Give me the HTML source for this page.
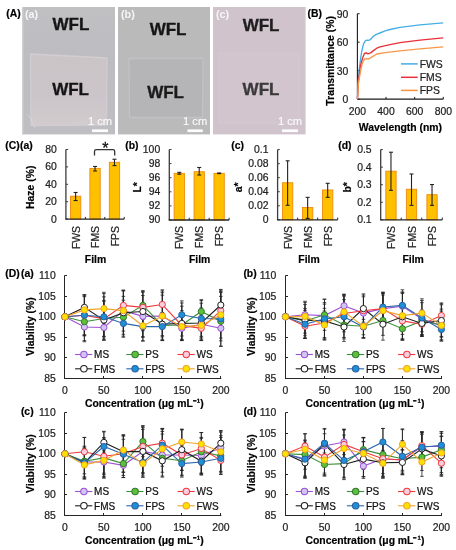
<!DOCTYPE html>
<html><head><meta charset="utf-8"><style>
html,body{margin:0;padding:0;background:#fff;}
body{width:456px;height:550px;overflow:hidden;}
svg{display:block;will-change:transform;}
text{font-family:"Liberation Sans",sans-serif;}
</style></head><body>
<svg width="456" height="550" viewBox="0 0 456 550">
<rect x="0" y="0" width="456" height="550" fill="#fff"/>
<defs><linearGradient id="ga" x1="0" y1="0" x2="0" y2="1"><stop offset="0" stop-color="#cac4c7"/><stop offset="0.6" stop-color="#cbc4c8"/><stop offset="1" stop-color="#d1cbce"/></linearGradient><linearGradient id="gpa" x1="0" y1="0" x2="0" y2="1"><stop offset="0" stop-color="#c0c0c3"/><stop offset="0.4" stop-color="#bdbdc1"/><stop offset="1" stop-color="#bfbec2"/></linearGradient></defs>
<g font-family="Liberation Sans, sans-serif">
<text x="6.30" y="16.90" font-size="10.4" font-weight="bold" text-anchor="start" fill="#000" stroke="#000" stroke-width="0.18">(A)</text>
<rect x="22.00" y="7.00" width="93.00" height="127.40" fill="url(#gpa)"/>
<polygon points="30.5,54 107,58 106.5,125 31,125.5" fill="url(#ga)" stroke="#d2cdd0" stroke-width="1.3" stroke-linejoin="round"/>
<rect x="22" y="7" width="1.4" height="127.4" fill="#cfcfd1"/><polyline points="27,114 31,119 35,128" fill="none" stroke="#dcd8db" stroke-width="1.1" opacity="0.6"/><polyline points="70,124 85,121 90,126" fill="none" stroke="#d8d4d7" stroke-width="1" opacity="0.5"/>
<text x="52.50" y="29.50" font-size="17" font-weight="bold" text-anchor="start" fill="#151515" stroke="#151515" stroke-width="0.35">WFL</text>
<text x="52.20" y="94.70" font-size="17" font-weight="bold" text-anchor="start" fill="#151515" stroke="#151515" stroke-width="0.35">WFL</text>
<text x="25.00" y="18.00" font-size="10.8" font-weight="bold" text-anchor="start" fill="#f6f6f6">(a)</text>
<text x="100.00" y="124.90" font-size="11.2" text-anchor="middle" fill="#fafafa" stroke="#fafafa" stroke-width="0.15">1 cm</text>
<rect x="92.00" y="129.40" width="16.00" height="2.70" fill="#fdfdfd"/>
<rect x="118.00" y="7.00" width="92.00" height="127.40" fill="#bbbabb"/>
<polygon points="129,58.5 203,58.5 202.5,117.5 129.5,117.5" fill="#b5b4b6" stroke="#c2c1c3" stroke-width="1.3" stroke-linejoin="round"/>
<text x="149.70" y="34.90" font-size="17" font-weight="bold" text-anchor="start" fill="#151515" stroke="#151515" stroke-width="0.35">WFL</text>
<text x="147.20" y="97.50" font-size="17" font-weight="bold" text-anchor="start" fill="#1a1a1a" stroke="#1a1a1a" stroke-width="0.35">WFL</text>
<text x="121.00" y="18.00" font-size="10.8" font-weight="bold" text-anchor="start" fill="#f6f6f6">(b)</text>
<text x="195.15" y="124.90" font-size="11.2" text-anchor="middle" fill="#fafafa" stroke="#fafafa" stroke-width="0.15">1 cm</text>
<rect x="187.50" y="129.40" width="15.30" height="2.70" fill="#fdfdfd"/>
<rect x="213.00" y="7.00" width="92.60" height="127.40" fill="#d0c3cb"/>
<polygon points="219,53 299,53 299,123.5 219,123.5" fill="#d2c5cd" stroke="#d4c8cf" stroke-width="1.3" stroke-linejoin="round"/>
<text x="242.70" y="30.70" font-size="17" font-weight="bold" text-anchor="start" fill="#1e1e1e" stroke="#1e1e1e" stroke-width="0.35">WFL</text>
<text x="242.60" y="94.50" font-size="17" font-weight="bold" text-anchor="start" fill="#3a3a3a" stroke="#3a3a3a" stroke-width="0.35">WFL</text>
<text x="216.00" y="18.00" font-size="10.8" font-weight="bold" text-anchor="start" fill="#f6f6f6">(c)</text>
<text x="290.00" y="124.90" font-size="11.2" text-anchor="middle" fill="#fafafa" stroke="#fafafa" stroke-width="0.15">1 cm</text>
<rect x="282.00" y="129.40" width="16.00" height="2.70" fill="#fdfdfd"/>
<text x="307.50" y="16.90" font-size="10.4" font-weight="bold" text-anchor="start" fill="#000" stroke="#000" stroke-width="0.18">(B)</text>
<line x1="357.40" y1="13.70" x2="357.40" y2="99.10" stroke="#1a1a1a" stroke-width="1.1"/>
<line x1="357.40" y1="99.10" x2="443.30" y2="99.10" stroke="#1a1a1a" stroke-width="1.1"/>
<line x1="357.40" y1="99.10" x2="359.60" y2="99.10" stroke="#1a1a1a" stroke-width="1"/>
<text x="348.30" y="103.10" font-size="10.4" text-anchor="end" fill="#222" stroke="#222" stroke-width="0.22">0</text>
<line x1="357.40" y1="70.63" x2="359.60" y2="70.63" stroke="#1a1a1a" stroke-width="1"/>
<text x="348.30" y="74.63" font-size="10.4" text-anchor="end" fill="#222" stroke="#222" stroke-width="0.22">30</text>
<line x1="357.40" y1="42.17" x2="359.60" y2="42.17" stroke="#1a1a1a" stroke-width="1"/>
<text x="348.30" y="46.17" font-size="10.4" text-anchor="end" fill="#222" stroke="#222" stroke-width="0.22">60</text>
<line x1="357.40" y1="13.70" x2="359.60" y2="13.70" stroke="#1a1a1a" stroke-width="1"/>
<text x="348.30" y="17.70" font-size="10.4" text-anchor="end" fill="#222" stroke="#222" stroke-width="0.22">90</text>
<line x1="357.40" y1="99.10" x2="357.40" y2="96.90" stroke="#1a1a1a" stroke-width="1"/>
<text x="357.40" y="115.00" font-size="10.4" text-anchor="middle" fill="#222" stroke="#222" stroke-width="0.22">200</text>
<line x1="386.03" y1="99.10" x2="386.03" y2="96.90" stroke="#1a1a1a" stroke-width="1"/>
<text x="386.03" y="115.00" font-size="10.4" text-anchor="middle" fill="#222" stroke="#222" stroke-width="0.22">400</text>
<line x1="414.67" y1="99.10" x2="414.67" y2="96.90" stroke="#1a1a1a" stroke-width="1"/>
<text x="414.67" y="115.00" font-size="10.4" text-anchor="middle" fill="#222" stroke="#222" stroke-width="0.22">600</text>
<line x1="443.30" y1="99.10" x2="443.30" y2="96.90" stroke="#1a1a1a" stroke-width="1"/>
<text x="443.30" y="115.00" font-size="10.4" text-anchor="middle" fill="#222" stroke="#222" stroke-width="0.22">800</text>
<text x="333.80" y="60.90" font-size="10.4" font-weight="bold" text-anchor="middle" fill="#000" transform="rotate(-90 333.8 60.9)" stroke="#000" stroke-width="0.18">Transmittance (%)</text>
<text x="400.40" y="131.00" font-size="10.4" font-weight="bold" text-anchor="middle" fill="#000" stroke="#000" stroke-width="0.18">Wavelength (nm)</text>
<polyline fill="none" stroke="#45afe6" stroke-width="1.35" stroke-linejoin="round" points="357.5,97.0 357.9,88.0 359.1,70.5 360.3,61.0 361.5,52.7 362.7,47.0 363.8,43.3 365.6,40.6 367.0,40.2 368.5,40.3 370.3,39.7 372.0,37.8 373.9,35.8 377.0,34.2 380.0,33.0 385.0,30.9 390.0,29.5 400.0,27.3 420.0,24.9 443.2,22.8"/>
<polyline fill="none" stroke="#e8303a" stroke-width="1.35" stroke-linejoin="round" points="357.5,99.0 358.5,80.0 360.3,66.9 361.5,62.0 362.6,58.0 364.4,53.5 366.2,52.8 368.0,53.9 370.9,52.6 373.5,50.6 376.8,48.2 380.0,46.9 390.0,44.7 400.0,42.6 420.0,40.2 443.2,37.9"/>
<polyline fill="none" stroke="#f8974a" stroke-width="1.35" stroke-linejoin="round" points="357.5,99.0 358.5,82.3 360.9,69.3 362.0,64.5 363.2,61.0 365.0,58.8 366.5,58.7 368.0,59.2 370.0,58.2 372.1,56.9 376.8,54.0 385.0,52.6 400.0,50.8 420.0,48.9 443.2,46.8"/>
<line x1="401.00" y1="63.90" x2="417.70" y2="63.90" stroke="#43ade4" stroke-width="1.5"/>
<text x="419.70" y="67.50" font-size="10.4" text-anchor="start" fill="#222" stroke="#222" stroke-width="0.22">FWS</text>
<line x1="401.00" y1="77.30" x2="417.70" y2="77.30" stroke="#e8303a" stroke-width="1.5"/>
<text x="419.70" y="80.90" font-size="10.4" text-anchor="start" fill="#222" stroke="#222" stroke-width="0.22">FMS</text>
<line x1="401.00" y1="90.40" x2="417.70" y2="90.40" stroke="#f7923f" stroke-width="1.5"/>
<text x="419.70" y="94.00" font-size="10.4" text-anchor="start" fill="#222" stroke="#222" stroke-width="0.22">FPS</text>
<text x="5.20" y="149.00" font-size="10.4" font-weight="bold" text-anchor="start" fill="#000" stroke="#000" stroke-width="0.18">(C)</text>
<line x1="65.90" y1="149.50" x2="65.90" y2="219.10" stroke="#3c3c3c" stroke-width="1.3"/>
<line x1="65.90" y1="219.10" x2="68.10" y2="219.10" stroke="#3c3c3c" stroke-width="1"/>
<text x="56.80" y="222.50" font-size="10.4" text-anchor="end" fill="#222" stroke="#222" stroke-width="0.22">0</text>
<line x1="65.90" y1="201.70" x2="68.10" y2="201.70" stroke="#3c3c3c" stroke-width="1"/>
<text x="56.80" y="205.10" font-size="10.4" text-anchor="end" fill="#222" stroke="#222" stroke-width="0.22">20</text>
<line x1="65.90" y1="184.30" x2="68.10" y2="184.30" stroke="#3c3c3c" stroke-width="1"/>
<text x="56.80" y="187.70" font-size="10.4" text-anchor="end" fill="#222" stroke="#222" stroke-width="0.22">40</text>
<line x1="65.90" y1="166.90" x2="68.10" y2="166.90" stroke="#3c3c3c" stroke-width="1"/>
<text x="56.80" y="170.30" font-size="10.4" text-anchor="end" fill="#222" stroke="#222" stroke-width="0.22">60</text>
<line x1="65.90" y1="149.50" x2="68.10" y2="149.50" stroke="#3c3c3c" stroke-width="1"/>
<text x="56.80" y="152.90" font-size="10.4" text-anchor="end" fill="#222" stroke="#222" stroke-width="0.22">80</text>
<rect x="70.47" y="196.22" width="10.30" height="22.88" fill="#ffc000" stroke="#f08a10" stroke-width="0.9"/>
<line x1="75.62" y1="192.48" x2="75.62" y2="200.57" stroke="#222" stroke-width="1.1"/>
<line x1="73.62" y1="192.48" x2="77.62" y2="192.48" stroke="#222" stroke-width="1.1"/>
<line x1="73.62" y1="200.57" x2="77.62" y2="200.57" stroke="#222" stroke-width="1.1"/>
<text x="79.82" y="226.00" font-size="10.4" text-anchor="end" fill="#222" transform="rotate(-90 79.81666666666668 226.0)" stroke="#222" stroke-width="0.22">FWS</text>
<rect x="89.90" y="168.38" width="10.30" height="50.72" fill="#ffc000" stroke="#f08a10" stroke-width="0.9"/>
<line x1="95.05" y1="166.47" x2="95.05" y2="170.99" stroke="#222" stroke-width="1.1"/>
<line x1="93.05" y1="166.47" x2="97.05" y2="166.47" stroke="#222" stroke-width="1.1"/>
<line x1="93.05" y1="170.99" x2="97.05" y2="170.99" stroke="#222" stroke-width="1.1"/>
<text x="99.25" y="226.00" font-size="10.4" text-anchor="end" fill="#222" transform="rotate(-90 99.25000000000001 226.0)" stroke="#222" stroke-width="0.22">FMS</text>
<rect x="109.33" y="162.29" width="10.30" height="56.81" fill="#ffc000" stroke="#f08a10" stroke-width="0.9"/>
<line x1="114.48" y1="159.24" x2="114.48" y2="165.59" stroke="#222" stroke-width="1.1"/>
<line x1="112.48" y1="159.24" x2="116.48" y2="159.24" stroke="#222" stroke-width="1.1"/>
<line x1="112.48" y1="165.59" x2="116.48" y2="165.59" stroke="#222" stroke-width="1.1"/>
<text x="118.68" y="226.00" font-size="10.4" text-anchor="end" fill="#222" transform="rotate(-90 118.68333333333335 226.0)" stroke="#222" stroke-width="0.22">FPS</text>
<line x1="65.25" y1="219.10" x2="124.20" y2="219.10" stroke="#262626" stroke-width="1.3"/>
<line x1="85.33" y1="219.10" x2="85.33" y2="216.90" stroke="#222" stroke-width="1"/>
<line x1="104.77" y1="219.10" x2="104.77" y2="216.90" stroke="#222" stroke-width="1"/>
<line x1="124.20" y1="219.10" x2="124.20" y2="216.90" stroke="#222" stroke-width="1"/>
<text x="95.55" y="263.00" font-size="10.4" font-weight="bold" text-anchor="middle" fill="#000" stroke="#000" stroke-width="0.18">Film</text>
<text x="34.40" y="187.30" font-size="10.4" font-weight="bold" text-anchor="middle" fill="#000" transform="rotate(-90 34.4 187.3)" stroke="#000" stroke-width="0.18">Haze (%)</text>
<text x="20.00" y="149.00" font-size="10.4" font-weight="bold" text-anchor="start" fill="#000" stroke="#000" stroke-width="0.18">(a)</text>
<path fill="none" stroke="#333" stroke-width="1.3" d="M94.5,155.4 V151.4 Q94.5,149.6 96.3,149.6 H112.9 Q114.7,149.6 114.7,151.4 V155.4"/>
<text x="105.30" y="153.60" font-size="16" text-anchor="middle" fill="#111" stroke="#111" stroke-width="0.3">*</text>
<line x1="169.30" y1="149.50" x2="169.30" y2="220.00" stroke="#3c3c3c" stroke-width="1.3"/>
<line x1="169.30" y1="220.00" x2="171.50" y2="220.00" stroke="#3c3c3c" stroke-width="1"/>
<text x="160.20" y="223.40" font-size="10.4" text-anchor="end" fill="#222" stroke="#222" stroke-width="0.22">90</text>
<line x1="169.30" y1="205.90" x2="171.50" y2="205.90" stroke="#3c3c3c" stroke-width="1"/>
<text x="160.20" y="209.30" font-size="10.4" text-anchor="end" fill="#222" stroke="#222" stroke-width="0.22">92</text>
<line x1="169.30" y1="191.80" x2="171.50" y2="191.80" stroke="#3c3c3c" stroke-width="1"/>
<text x="160.20" y="195.20" font-size="10.4" text-anchor="end" fill="#222" stroke="#222" stroke-width="0.22">94</text>
<line x1="169.30" y1="177.70" x2="171.50" y2="177.70" stroke="#3c3c3c" stroke-width="1"/>
<text x="160.20" y="181.10" font-size="10.4" text-anchor="end" fill="#222" stroke="#222" stroke-width="0.22">96</text>
<line x1="169.30" y1="163.60" x2="171.50" y2="163.60" stroke="#3c3c3c" stroke-width="1"/>
<text x="160.20" y="167.00" font-size="10.4" text-anchor="end" fill="#222" stroke="#222" stroke-width="0.22">98</text>
<line x1="169.30" y1="149.50" x2="171.50" y2="149.50" stroke="#3c3c3c" stroke-width="1"/>
<text x="160.20" y="152.90" font-size="10.4" text-anchor="end" fill="#222" stroke="#222" stroke-width="0.22">100</text>
<rect x="174.12" y="173.33" width="10.30" height="46.67" fill="#ffc000" stroke="#f08a10" stroke-width="0.9"/>
<line x1="179.27" y1="172.34" x2="179.27" y2="174.18" stroke="#222" stroke-width="1.1"/>
<line x1="177.27" y1="172.34" x2="181.27" y2="172.34" stroke="#222" stroke-width="1.1"/>
<line x1="177.27" y1="174.18" x2="181.27" y2="174.18" stroke="#222" stroke-width="1.1"/>
<text x="183.47" y="226.00" font-size="10.4" text-anchor="end" fill="#222" transform="rotate(-90 183.46666666666667 226.0)" stroke="#222" stroke-width="0.22">FWS</text>
<rect x="194.05" y="171.71" width="10.30" height="48.29" fill="#ffc000" stroke="#f08a10" stroke-width="0.9"/>
<line x1="199.20" y1="167.48" x2="199.20" y2="175.02" stroke="#222" stroke-width="1.1"/>
<line x1="197.20" y1="167.48" x2="201.20" y2="167.48" stroke="#222" stroke-width="1.1"/>
<line x1="197.20" y1="175.02" x2="201.20" y2="175.02" stroke="#222" stroke-width="1.1"/>
<text x="203.40" y="226.00" font-size="10.4" text-anchor="end" fill="#222" transform="rotate(-90 203.39999999999998 226.0)" stroke="#222" stroke-width="0.22">FMS</text>
<rect x="213.98" y="173.33" width="10.30" height="46.67" fill="#ffc000" stroke="#f08a10" stroke-width="0.9"/>
<line x1="219.13" y1="172.98" x2="219.13" y2="173.61" stroke="#222" stroke-width="1.1"/>
<line x1="217.13" y1="172.98" x2="221.13" y2="172.98" stroke="#222" stroke-width="1.1"/>
<line x1="217.13" y1="173.61" x2="221.13" y2="173.61" stroke="#222" stroke-width="1.1"/>
<text x="223.33" y="226.00" font-size="10.4" text-anchor="end" fill="#222" transform="rotate(-90 223.33333333333331 226.0)" stroke="#222" stroke-width="0.22">FPS</text>
<line x1="168.65" y1="220.00" x2="229.10" y2="220.00" stroke="#262626" stroke-width="1.3"/>
<line x1="189.23" y1="220.00" x2="189.23" y2="217.80" stroke="#222" stroke-width="1"/>
<line x1="209.17" y1="220.00" x2="209.17" y2="217.80" stroke="#222" stroke-width="1"/>
<line x1="229.10" y1="220.00" x2="229.10" y2="217.80" stroke="#222" stroke-width="1"/>
<text x="199.70" y="263.00" font-size="10.4" font-weight="bold" text-anchor="middle" fill="#000" stroke="#000" stroke-width="0.18">Film</text>
<text x="141.20" y="187.30" font-size="10.4" font-weight="bold" text-anchor="middle" fill="#000" transform="rotate(-90 141.2 187.3)" stroke="#000" stroke-width="0.18">L*</text>
<text x="125.30" y="149.00" font-size="10.4" font-weight="bold" text-anchor="start" fill="#000" stroke="#000" stroke-width="0.18">(b)</text>
<line x1="277.60" y1="149.60" x2="277.60" y2="219.80" stroke="#3c3c3c" stroke-width="1.3"/>
<line x1="277.60" y1="219.80" x2="279.80" y2="219.80" stroke="#3c3c3c" stroke-width="1"/>
<text x="268.50" y="223.20" font-size="10.4" text-anchor="end" fill="#222" stroke="#222" stroke-width="0.22">0</text>
<line x1="277.60" y1="205.76" x2="279.80" y2="205.76" stroke="#3c3c3c" stroke-width="1"/>
<text x="268.50" y="209.16" font-size="10.4" text-anchor="end" fill="#222" stroke="#222" stroke-width="0.22">0.02</text>
<line x1="277.60" y1="191.72" x2="279.80" y2="191.72" stroke="#3c3c3c" stroke-width="1"/>
<text x="268.50" y="195.12" font-size="10.4" text-anchor="end" fill="#222" stroke="#222" stroke-width="0.22">0.04</text>
<line x1="277.60" y1="177.68" x2="279.80" y2="177.68" stroke="#3c3c3c" stroke-width="1"/>
<text x="268.50" y="181.08" font-size="10.4" text-anchor="end" fill="#222" stroke="#222" stroke-width="0.22">0.06</text>
<line x1="277.60" y1="163.64" x2="279.80" y2="163.64" stroke="#3c3c3c" stroke-width="1"/>
<text x="268.50" y="167.04" font-size="10.4" text-anchor="end" fill="#222" stroke="#222" stroke-width="0.22">0.08</text>
<line x1="277.60" y1="149.60" x2="279.80" y2="149.60" stroke="#3c3c3c" stroke-width="1"/>
<text x="268.50" y="153.00" font-size="10.4" text-anchor="end" fill="#222" stroke="#222" stroke-width="0.22">0.1</text>
<rect x="282.47" y="182.73" width="10.30" height="37.07" fill="#ffc000" stroke="#f08a10" stroke-width="0.9"/>
<line x1="287.62" y1="160.83" x2="287.62" y2="205.27" stroke="#222" stroke-width="1.1"/>
<line x1="285.62" y1="160.83" x2="289.62" y2="160.83" stroke="#222" stroke-width="1.1"/>
<line x1="285.62" y1="205.27" x2="289.62" y2="205.27" stroke="#222" stroke-width="1.1"/>
<text x="291.82" y="226.00" font-size="10.4" text-anchor="end" fill="#222" transform="rotate(-90 291.81666666666666 226.0)" stroke="#222" stroke-width="0.22">FWS</text>
<rect x="302.50" y="207.52" width="10.30" height="12.28" fill="#ffc000" stroke="#f08a10" stroke-width="0.9"/>
<line x1="307.65" y1="197.34" x2="307.65" y2="218.40" stroke="#222" stroke-width="1.1"/>
<line x1="305.65" y1="197.34" x2="309.65" y2="197.34" stroke="#222" stroke-width="1.1"/>
<line x1="305.65" y1="218.40" x2="309.65" y2="218.40" stroke="#222" stroke-width="1.1"/>
<text x="311.85" y="226.00" font-size="10.4" text-anchor="end" fill="#222" transform="rotate(-90 311.84999999999997 226.0)" stroke="#222" stroke-width="0.22">FMS</text>
<rect x="322.53" y="189.97" width="10.30" height="29.84" fill="#ffc000" stroke="#f08a10" stroke-width="0.9"/>
<line x1="327.68" y1="183.30" x2="327.68" y2="197.34" stroke="#222" stroke-width="1.1"/>
<line x1="325.68" y1="183.30" x2="329.68" y2="183.30" stroke="#222" stroke-width="1.1"/>
<line x1="325.68" y1="197.34" x2="329.68" y2="197.34" stroke="#222" stroke-width="1.1"/>
<text x="331.88" y="226.00" font-size="10.4" text-anchor="end" fill="#222" transform="rotate(-90 331.8833333333333 226.0)" stroke="#222" stroke-width="0.22">FPS</text>
<line x1="276.95" y1="219.80" x2="337.70" y2="219.80" stroke="#262626" stroke-width="1.3"/>
<line x1="297.63" y1="219.80" x2="297.63" y2="217.60" stroke="#222" stroke-width="1"/>
<line x1="317.67" y1="219.80" x2="317.67" y2="217.60" stroke="#222" stroke-width="1"/>
<line x1="337.70" y1="219.80" x2="337.70" y2="217.60" stroke="#222" stroke-width="1"/>
<text x="309.05" y="263.00" font-size="10.4" font-weight="bold" text-anchor="middle" fill="#000" stroke="#000" stroke-width="0.18">Film</text>
<text x="241.80" y="187.30" font-size="10.4" font-weight="bold" text-anchor="middle" fill="#000" transform="rotate(-90 241.8 187.3)" stroke="#000" stroke-width="0.18">a*</text>
<text x="231.30" y="149.00" font-size="10.4" font-weight="bold" text-anchor="start" fill="#000" stroke="#000" stroke-width="0.18">(c)</text>
<line x1="380.70" y1="149.60" x2="380.70" y2="219.80" stroke="#3c3c3c" stroke-width="1.3"/>
<line x1="380.70" y1="219.80" x2="382.90" y2="219.80" stroke="#3c3c3c" stroke-width="1"/>
<text x="371.60" y="223.20" font-size="10.4" text-anchor="end" fill="#222" stroke="#222" stroke-width="0.22">0.1</text>
<line x1="380.70" y1="202.25" x2="382.90" y2="202.25" stroke="#3c3c3c" stroke-width="1"/>
<text x="371.60" y="205.65" font-size="10.4" text-anchor="end" fill="#222" stroke="#222" stroke-width="0.22">0.2</text>
<line x1="380.70" y1="184.70" x2="382.90" y2="184.70" stroke="#3c3c3c" stroke-width="1"/>
<text x="371.60" y="188.10" font-size="10.4" text-anchor="end" fill="#222" stroke="#222" stroke-width="0.22">0.3</text>
<line x1="380.70" y1="167.15" x2="382.90" y2="167.15" stroke="#3c3c3c" stroke-width="1"/>
<text x="371.60" y="170.55" font-size="10.4" text-anchor="end" fill="#222" stroke="#222" stroke-width="0.22">0.4</text>
<line x1="380.70" y1="149.60" x2="382.90" y2="149.60" stroke="#3c3c3c" stroke-width="1"/>
<text x="371.60" y="153.00" font-size="10.4" text-anchor="end" fill="#222" stroke="#222" stroke-width="0.22">0.5</text>
<rect x="385.82" y="171.19" width="10.30" height="48.61" fill="#ffc000" stroke="#f08a10" stroke-width="0.9"/>
<line x1="390.97" y1="152.23" x2="390.97" y2="190.32" stroke="#222" stroke-width="1.1"/>
<line x1="388.97" y1="152.23" x2="392.97" y2="152.23" stroke="#222" stroke-width="1.1"/>
<line x1="388.97" y1="190.32" x2="392.97" y2="190.32" stroke="#222" stroke-width="1.1"/>
<text x="395.17" y="226.00" font-size="10.4" text-anchor="end" fill="#222" transform="rotate(-90 395.16666666666663 226.0)" stroke="#222" stroke-width="0.22">FWS</text>
<rect x="406.35" y="189.26" width="10.30" height="30.54" fill="#ffc000" stroke="#f08a10" stroke-width="0.9"/>
<line x1="411.50" y1="173.99" x2="411.50" y2="205.41" stroke="#222" stroke-width="1.1"/>
<line x1="409.50" y1="173.99" x2="413.50" y2="173.99" stroke="#222" stroke-width="1.1"/>
<line x1="409.50" y1="205.41" x2="413.50" y2="205.41" stroke="#222" stroke-width="1.1"/>
<text x="415.70" y="226.00" font-size="10.4" text-anchor="end" fill="#222" transform="rotate(-90 415.7 226.0)" stroke="#222" stroke-width="0.22">FMS</text>
<rect x="426.88" y="194.70" width="10.30" height="25.10" fill="#ffc000" stroke="#f08a10" stroke-width="0.9"/>
<line x1="432.03" y1="184.52" x2="432.03" y2="205.41" stroke="#222" stroke-width="1.1"/>
<line x1="430.03" y1="184.52" x2="434.03" y2="184.52" stroke="#222" stroke-width="1.1"/>
<line x1="430.03" y1="205.41" x2="434.03" y2="205.41" stroke="#222" stroke-width="1.1"/>
<text x="436.23" y="226.00" font-size="10.4" text-anchor="end" fill="#222" transform="rotate(-90 436.23333333333335 226.0)" stroke="#222" stroke-width="0.22">FPS</text>
<line x1="380.05" y1="219.80" x2="442.30" y2="219.80" stroke="#262626" stroke-width="1.3"/>
<line x1="401.23" y1="219.80" x2="401.23" y2="217.60" stroke="#222" stroke-width="1"/>
<line x1="421.77" y1="219.80" x2="421.77" y2="217.60" stroke="#222" stroke-width="1"/>
<line x1="442.30" y1="219.80" x2="442.30" y2="217.60" stroke="#222" stroke-width="1"/>
<text x="413.10" y="263.00" font-size="10.4" font-weight="bold" text-anchor="middle" fill="#000" stroke="#000" stroke-width="0.18">Film</text>
<text x="351.20" y="187.30" font-size="10.4" font-weight="bold" text-anchor="middle" fill="#000" transform="rotate(-90 351.2 187.3)" stroke="#000" stroke-width="0.18">b*</text>
<text x="338.30" y="149.00" font-size="10.4" font-weight="bold" text-anchor="start" fill="#000" stroke="#000" stroke-width="0.18">(d)</text>
<text x="5.30" y="277.00" font-size="10.4" font-weight="bold" text-anchor="start" fill="#000" stroke="#000" stroke-width="0.18">(D)</text>
<line x1="64.50" y1="275.50" x2="64.50" y2="379.00" stroke="#262626" stroke-width="1"/>
<line x1="64.00" y1="378.50" x2="221.30" y2="378.50" stroke="#262626" stroke-width="1"/>
<line x1="64.50" y1="378.50" x2="67.00" y2="378.50" stroke="#262626" stroke-width="1"/>
<text x="55.70" y="382.00" font-size="10.4" text-anchor="end" fill="#222" stroke="#222" stroke-width="0.22">85</text>
<line x1="64.50" y1="357.50" x2="67.00" y2="357.50" stroke="#262626" stroke-width="1"/>
<text x="55.70" y="361.00" font-size="10.4" text-anchor="end" fill="#222" stroke="#222" stroke-width="0.22">90</text>
<line x1="64.50" y1="337.50" x2="67.00" y2="337.50" stroke="#262626" stroke-width="1"/>
<text x="55.70" y="341.00" font-size="10.4" text-anchor="end" fill="#222" stroke="#222" stroke-width="0.22">95</text>
<line x1="64.50" y1="316.50" x2="67.00" y2="316.50" stroke="#262626" stroke-width="1"/>
<text x="55.70" y="320.00" font-size="10.4" text-anchor="end" fill="#222" stroke="#222" stroke-width="0.22">100</text>
<line x1="64.50" y1="296.50" x2="67.00" y2="296.50" stroke="#262626" stroke-width="1"/>
<text x="55.70" y="300.00" font-size="10.4" text-anchor="end" fill="#222" stroke="#222" stroke-width="0.22">105</text>
<line x1="64.50" y1="275.50" x2="67.00" y2="275.50" stroke="#262626" stroke-width="1"/>
<text x="55.70" y="279.00" font-size="10.4" text-anchor="end" fill="#222" stroke="#222" stroke-width="0.22">110</text>
<text x="64.90" y="393.90" font-size="10.4" text-anchor="middle" fill="#222" stroke="#222" stroke-width="0.22">0</text>
<line x1="103.50" y1="378.50" x2="103.50" y2="376.00" stroke="#262626" stroke-width="1"/>
<text x="103.88" y="393.90" font-size="10.4" text-anchor="middle" fill="#222" stroke="#222" stroke-width="0.22">50</text>
<line x1="142.50" y1="378.50" x2="142.50" y2="376.00" stroke="#262626" stroke-width="1"/>
<text x="142.85" y="393.90" font-size="10.4" text-anchor="middle" fill="#222" stroke="#222" stroke-width="0.22">100</text>
<line x1="181.50" y1="378.50" x2="181.50" y2="376.00" stroke="#262626" stroke-width="1"/>
<text x="181.82" y="393.90" font-size="10.4" text-anchor="middle" fill="#222" stroke="#222" stroke-width="0.22">150</text>
<line x1="220.50" y1="378.50" x2="220.50" y2="376.00" stroke="#262626" stroke-width="1"/>
<text x="220.80" y="393.90" font-size="10.4" text-anchor="middle" fill="#222" stroke="#222" stroke-width="0.22">200</text>
<text x="144.35" y="406.80" font-size="10.4" font-weight="bold" text-anchor="middle" fill="#000" stroke="#000" stroke-width="0.18">Concentration (μg mL⁻¹)</text>
<text x="34.30" y="326.60" font-size="10.4" font-weight="bold" text-anchor="middle" fill="#000" transform="rotate(-90 34.300000000000004 326.59999999999997)" stroke="#000" stroke-width="0.18">Viability (%)</text>
<text x="21.00" y="277.00" font-size="10.4" font-weight="bold" text-anchor="start" fill="#000" stroke="#000" stroke-width="0.18">(a)</text>
<polyline fill="none" stroke="#9d4fd1" stroke-width="1.1" points="64.9,316.8 84.4,327.0 103.9,327.5 123.4,310.7 142.9,316.4 162.3,316.0 181.8,328.3 201.3,324.2 220.8,328.3"/>
<polyline fill="none" stroke="#3a8f3a" stroke-width="1.1" points="64.9,316.8 84.4,321.7 103.9,318.5 123.4,317.2 142.9,305.4 162.3,325.4 181.8,325.0 201.3,311.5 220.8,321.3"/>
<polyline fill="none" stroke="#f0383c" stroke-width="1.1" points="64.9,316.8 84.4,315.2 103.9,318.9 123.4,305.4 142.9,307.4 162.3,304.5 181.8,325.4 201.3,328.3 220.8,310.7"/>
<polyline fill="none" stroke="#1e1e1e" stroke-width="1.1" points="64.9,316.8 84.4,307.4 103.9,320.1 123.4,312.7 142.9,311.5 162.3,324.2 181.8,323.4 201.3,323.0 220.8,305.0"/>
<polyline fill="none" stroke="#2c66ad" stroke-width="1.1" points="64.9,316.8 84.4,315.2 103.9,316.8 123.4,323.4 142.9,326.6 162.3,326.6 181.8,314.8 201.3,318.5 220.8,318.9"/>
<polyline fill="none" stroke="#f0a42a" stroke-width="1.1" points="64.9,316.8 84.4,309.9 103.9,308.6 123.4,310.7 142.9,325.8 162.3,316.0 181.8,326.6 201.3,325.4 220.8,314.8"/>
<line x1="84.39" y1="313.50" x2="84.39" y2="340.60" stroke="#222" stroke-width="0.8"/>
<line x1="82.59" y1="313.50" x2="86.19" y2="313.50" stroke="#222" stroke-width="0.8"/>
<line x1="82.59" y1="340.60" x2="86.19" y2="340.60" stroke="#222" stroke-width="0.8"/>
<line x1="84.39" y1="307.69" x2="84.39" y2="335.77" stroke="#222" stroke-width="0.8"/>
<line x1="82.59" y1="307.69" x2="86.19" y2="307.69" stroke="#222" stroke-width="0.8"/>
<line x1="82.59" y1="335.77" x2="86.19" y2="335.77" stroke="#222" stroke-width="0.8"/>
<line x1="84.39" y1="294.72" x2="84.39" y2="335.64" stroke="#222" stroke-width="0.8"/>
<line x1="82.59" y1="294.72" x2="86.19" y2="294.72" stroke="#222" stroke-width="0.8"/>
<line x1="82.59" y1="335.64" x2="86.19" y2="335.64" stroke="#222" stroke-width="0.8"/>
<line x1="84.39" y1="296.63" x2="84.39" y2="318.19" stroke="#222" stroke-width="0.8"/>
<line x1="82.59" y1="296.63" x2="86.19" y2="296.63" stroke="#222" stroke-width="0.8"/>
<line x1="82.59" y1="318.19" x2="86.19" y2="318.19" stroke="#222" stroke-width="0.8"/>
<line x1="84.39" y1="295.75" x2="84.39" y2="334.62" stroke="#222" stroke-width="0.8"/>
<line x1="82.59" y1="295.75" x2="86.19" y2="295.75" stroke="#222" stroke-width="0.8"/>
<line x1="82.59" y1="334.62" x2="86.19" y2="334.62" stroke="#222" stroke-width="0.8"/>
<line x1="84.39" y1="294.72" x2="84.39" y2="341.78" stroke="#222" stroke-width="0.8"/>
<line x1="82.59" y1="294.72" x2="86.19" y2="294.72" stroke="#222" stroke-width="0.8"/>
<line x1="82.59" y1="341.78" x2="86.19" y2="341.78" stroke="#222" stroke-width="0.8"/>
<line x1="103.88" y1="318.58" x2="103.88" y2="336.34" stroke="#222" stroke-width="0.8"/>
<line x1="102.08" y1="318.58" x2="105.67" y2="318.58" stroke="#222" stroke-width="0.8"/>
<line x1="102.08" y1="336.34" x2="105.67" y2="336.34" stroke="#222" stroke-width="0.8"/>
<line x1="103.88" y1="296.77" x2="103.88" y2="340.14" stroke="#222" stroke-width="0.8"/>
<line x1="102.08" y1="296.77" x2="105.67" y2="296.77" stroke="#222" stroke-width="0.8"/>
<line x1="102.08" y1="340.14" x2="105.67" y2="340.14" stroke="#222" stroke-width="0.8"/>
<line x1="103.88" y1="300.78" x2="103.88" y2="336.95" stroke="#222" stroke-width="0.8"/>
<line x1="102.08" y1="300.78" x2="105.67" y2="300.78" stroke="#222" stroke-width="0.8"/>
<line x1="102.08" y1="336.95" x2="105.67" y2="336.95" stroke="#222" stroke-width="0.8"/>
<line x1="103.88" y1="301.05" x2="103.88" y2="339.14" stroke="#222" stroke-width="0.8"/>
<line x1="102.08" y1="301.05" x2="105.67" y2="301.05" stroke="#222" stroke-width="0.8"/>
<line x1="102.08" y1="339.14" x2="105.67" y2="339.14" stroke="#222" stroke-width="0.8"/>
<line x1="103.88" y1="292.27" x2="103.88" y2="340.14" stroke="#222" stroke-width="0.8"/>
<line x1="102.08" y1="292.27" x2="105.67" y2="292.27" stroke="#222" stroke-width="0.8"/>
<line x1="102.08" y1="340.14" x2="105.67" y2="340.14" stroke="#222" stroke-width="0.8"/>
<line x1="103.88" y1="293.58" x2="103.88" y2="323.69" stroke="#222" stroke-width="0.8"/>
<line x1="102.08" y1="293.58" x2="105.67" y2="293.58" stroke="#222" stroke-width="0.8"/>
<line x1="102.08" y1="323.69" x2="105.67" y2="323.69" stroke="#222" stroke-width="0.8"/>
<line x1="123.36" y1="290.22" x2="123.36" y2="331.14" stroke="#222" stroke-width="0.8"/>
<line x1="121.56" y1="290.22" x2="125.16" y2="290.22" stroke="#222" stroke-width="0.8"/>
<line x1="121.56" y1="331.14" x2="125.16" y2="331.14" stroke="#222" stroke-width="0.8"/>
<line x1="123.36" y1="300.19" x2="123.36" y2="334.27" stroke="#222" stroke-width="0.8"/>
<line x1="121.56" y1="300.19" x2="125.16" y2="300.19" stroke="#222" stroke-width="0.8"/>
<line x1="121.56" y1="334.27" x2="125.16" y2="334.27" stroke="#222" stroke-width="0.8"/>
<line x1="123.36" y1="290.98" x2="123.36" y2="319.75" stroke="#222" stroke-width="0.8"/>
<line x1="121.56" y1="290.98" x2="125.16" y2="290.98" stroke="#222" stroke-width="0.8"/>
<line x1="121.56" y1="319.75" x2="125.16" y2="319.75" stroke="#222" stroke-width="0.8"/>
<line x1="123.36" y1="290.22" x2="123.36" y2="337.28" stroke="#222" stroke-width="0.8"/>
<line x1="121.56" y1="290.22" x2="125.16" y2="290.22" stroke="#222" stroke-width="0.8"/>
<line x1="121.56" y1="337.28" x2="125.16" y2="337.28" stroke="#222" stroke-width="0.8"/>
<line x1="123.36" y1="310.57" x2="123.36" y2="336.17" stroke="#222" stroke-width="0.8"/>
<line x1="121.56" y1="310.57" x2="125.16" y2="310.57" stroke="#222" stroke-width="0.8"/>
<line x1="121.56" y1="336.17" x2="125.16" y2="336.17" stroke="#222" stroke-width="0.8"/>
<line x1="123.36" y1="296.36" x2="123.36" y2="325.00" stroke="#222" stroke-width="0.8"/>
<line x1="121.56" y1="296.36" x2="125.16" y2="296.36" stroke="#222" stroke-width="0.8"/>
<line x1="121.56" y1="325.00" x2="125.16" y2="325.00" stroke="#222" stroke-width="0.8"/>
<line x1="142.85" y1="295.54" x2="142.85" y2="337.28" stroke="#222" stroke-width="0.8"/>
<line x1="141.05" y1="295.54" x2="144.65" y2="295.54" stroke="#222" stroke-width="0.8"/>
<line x1="141.05" y1="337.28" x2="144.65" y2="337.28" stroke="#222" stroke-width="0.8"/>
<line x1="142.85" y1="291.37" x2="142.85" y2="319.36" stroke="#222" stroke-width="0.8"/>
<line x1="141.05" y1="291.37" x2="144.65" y2="291.37" stroke="#222" stroke-width="0.8"/>
<line x1="141.05" y1="319.36" x2="144.65" y2="319.36" stroke="#222" stroke-width="0.8"/>
<line x1="142.85" y1="290.63" x2="142.85" y2="340.96" stroke="#222" stroke-width="0.8"/>
<line x1="141.05" y1="290.63" x2="144.65" y2="290.63" stroke="#222" stroke-width="0.8"/>
<line x1="141.05" y1="340.96" x2="144.65" y2="340.96" stroke="#222" stroke-width="0.8"/>
<line x1="142.85" y1="292.30" x2="142.85" y2="330.70" stroke="#222" stroke-width="0.8"/>
<line x1="141.05" y1="292.30" x2="144.65" y2="292.30" stroke="#222" stroke-width="0.8"/>
<line x1="141.05" y1="330.70" x2="144.65" y2="330.70" stroke="#222" stroke-width="0.8"/>
<line x1="142.85" y1="316.62" x2="142.85" y2="336.67" stroke="#222" stroke-width="0.8"/>
<line x1="141.05" y1="316.62" x2="144.65" y2="316.62" stroke="#222" stroke-width="0.8"/>
<line x1="141.05" y1="336.67" x2="144.65" y2="336.67" stroke="#222" stroke-width="0.8"/>
<line x1="142.85" y1="310.68" x2="142.85" y2="340.96" stroke="#222" stroke-width="0.8"/>
<line x1="141.05" y1="310.68" x2="144.65" y2="310.68" stroke="#222" stroke-width="0.8"/>
<line x1="141.05" y1="340.96" x2="144.65" y2="340.96" stroke="#222" stroke-width="0.8"/>
<line x1="162.34" y1="292.68" x2="162.34" y2="339.33" stroke="#222" stroke-width="0.8"/>
<line x1="160.54" y1="292.68" x2="164.14" y2="292.68" stroke="#222" stroke-width="0.8"/>
<line x1="160.54" y1="339.33" x2="164.14" y2="339.33" stroke="#222" stroke-width="0.8"/>
<line x1="162.34" y1="289.81" x2="162.34" y2="340.55" stroke="#222" stroke-width="0.8"/>
<line x1="160.54" y1="289.81" x2="164.14" y2="289.81" stroke="#222" stroke-width="0.8"/>
<line x1="160.54" y1="340.55" x2="164.14" y2="340.55" stroke="#222" stroke-width="0.8"/>
<line x1="162.34" y1="290.99" x2="162.34" y2="318.10" stroke="#222" stroke-width="0.8"/>
<line x1="160.54" y1="290.99" x2="164.14" y2="290.99" stroke="#222" stroke-width="0.8"/>
<line x1="160.54" y1="318.10" x2="164.14" y2="318.10" stroke="#222" stroke-width="0.8"/>
<line x1="162.34" y1="312.73" x2="162.34" y2="335.64" stroke="#222" stroke-width="0.8"/>
<line x1="160.54" y1="312.73" x2="164.14" y2="312.73" stroke="#222" stroke-width="0.8"/>
<line x1="160.54" y1="335.64" x2="164.14" y2="335.64" stroke="#222" stroke-width="0.8"/>
<line x1="162.34" y1="312.73" x2="162.34" y2="340.55" stroke="#222" stroke-width="0.8"/>
<line x1="160.54" y1="312.73" x2="164.14" y2="312.73" stroke="#222" stroke-width="0.8"/>
<line x1="160.54" y1="340.55" x2="164.14" y2="340.55" stroke="#222" stroke-width="0.8"/>
<line x1="162.34" y1="295.13" x2="162.34" y2="336.87" stroke="#222" stroke-width="0.8"/>
<line x1="160.54" y1="295.13" x2="164.14" y2="295.13" stroke="#222" stroke-width="0.8"/>
<line x1="160.54" y1="336.87" x2="164.14" y2="336.87" stroke="#222" stroke-width="0.8"/>
<line x1="181.82" y1="300.86" x2="181.82" y2="340.55" stroke="#222" stroke-width="0.8"/>
<line x1="180.02" y1="300.86" x2="183.62" y2="300.86" stroke="#222" stroke-width="0.8"/>
<line x1="180.02" y1="340.55" x2="183.62" y2="340.55" stroke="#222" stroke-width="0.8"/>
<line x1="181.82" y1="310.70" x2="181.82" y2="339.31" stroke="#222" stroke-width="0.8"/>
<line x1="180.02" y1="310.70" x2="183.62" y2="310.70" stroke="#222" stroke-width="0.8"/>
<line x1="180.02" y1="339.31" x2="183.62" y2="339.31" stroke="#222" stroke-width="0.8"/>
<line x1="181.82" y1="314.81" x2="181.82" y2="336.01" stroke="#222" stroke-width="0.8"/>
<line x1="180.02" y1="314.81" x2="183.62" y2="314.81" stroke="#222" stroke-width="0.8"/>
<line x1="180.02" y1="336.01" x2="183.62" y2="336.01" stroke="#222" stroke-width="0.8"/>
<line x1="181.82" y1="306.18" x2="181.82" y2="340.55" stroke="#222" stroke-width="0.8"/>
<line x1="180.02" y1="306.18" x2="183.62" y2="306.18" stroke="#222" stroke-width="0.8"/>
<line x1="180.02" y1="340.55" x2="183.62" y2="340.55" stroke="#222" stroke-width="0.8"/>
<line x1="181.82" y1="302.95" x2="181.82" y2="326.60" stroke="#222" stroke-width="0.8"/>
<line x1="180.02" y1="302.95" x2="183.62" y2="302.95" stroke="#222" stroke-width="0.8"/>
<line x1="180.02" y1="326.60" x2="183.62" y2="326.60" stroke="#222" stroke-width="0.8"/>
<line x1="181.82" y1="313.42" x2="181.82" y2="339.86" stroke="#222" stroke-width="0.8"/>
<line x1="180.02" y1="313.42" x2="183.62" y2="313.42" stroke="#222" stroke-width="0.8"/>
<line x1="180.02" y1="339.86" x2="183.62" y2="339.86" stroke="#222" stroke-width="0.8"/>
<line x1="201.31" y1="309.13" x2="201.31" y2="339.24" stroke="#222" stroke-width="0.8"/>
<line x1="199.51" y1="309.13" x2="203.11" y2="309.13" stroke="#222" stroke-width="0.8"/>
<line x1="199.51" y1="339.24" x2="203.11" y2="339.24" stroke="#222" stroke-width="0.8"/>
<line x1="201.31" y1="303.19" x2="201.31" y2="319.81" stroke="#222" stroke-width="0.8"/>
<line x1="199.51" y1="303.19" x2="203.11" y2="303.19" stroke="#222" stroke-width="0.8"/>
<line x1="199.51" y1="319.81" x2="203.11" y2="319.81" stroke="#222" stroke-width="0.8"/>
<line x1="201.31" y1="316.00" x2="201.31" y2="340.55" stroke="#222" stroke-width="0.8"/>
<line x1="199.51" y1="316.00" x2="203.11" y2="316.00" stroke="#222" stroke-width="0.8"/>
<line x1="199.51" y1="340.55" x2="203.11" y2="340.55" stroke="#222" stroke-width="0.8"/>
<line x1="201.31" y1="308.00" x2="201.31" y2="337.91" stroke="#222" stroke-width="0.8"/>
<line x1="199.51" y1="308.00" x2="203.11" y2="308.00" stroke="#222" stroke-width="0.8"/>
<line x1="199.51" y1="337.91" x2="203.11" y2="337.91" stroke="#222" stroke-width="0.8"/>
<line x1="201.31" y1="300.57" x2="201.31" y2="336.34" stroke="#222" stroke-width="0.8"/>
<line x1="199.51" y1="300.57" x2="203.11" y2="300.57" stroke="#222" stroke-width="0.8"/>
<line x1="199.51" y1="336.34" x2="203.11" y2="336.34" stroke="#222" stroke-width="0.8"/>
<line x1="201.31" y1="299.63" x2="201.31" y2="340.55" stroke="#222" stroke-width="0.8"/>
<line x1="199.51" y1="299.63" x2="203.11" y2="299.63" stroke="#222" stroke-width="0.8"/>
<line x1="199.51" y1="340.55" x2="203.11" y2="340.55" stroke="#222" stroke-width="0.8"/>
<line x1="220.80" y1="315.67" x2="220.80" y2="340.88" stroke="#222" stroke-width="0.8"/>
<line x1="219.00" y1="315.67" x2="222.60" y2="315.67" stroke="#222" stroke-width="0.8"/>
<line x1="219.00" y1="340.88" x2="222.60" y2="340.88" stroke="#222" stroke-width="0.8"/>
<line x1="220.80" y1="296.36" x2="220.80" y2="346.28" stroke="#222" stroke-width="0.8"/>
<line x1="219.00" y1="296.36" x2="222.60" y2="296.36" stroke="#222" stroke-width="0.8"/>
<line x1="219.00" y1="346.28" x2="222.60" y2="346.28" stroke="#222" stroke-width="0.8"/>
<line x1="220.80" y1="292.60" x2="220.80" y2="328.77" stroke="#222" stroke-width="0.8"/>
<line x1="219.00" y1="292.60" x2="222.60" y2="292.60" stroke="#222" stroke-width="0.8"/>
<line x1="219.00" y1="328.77" x2="222.60" y2="328.77" stroke="#222" stroke-width="0.8"/>
<line x1="220.80" y1="290.18" x2="220.80" y2="319.73" stroke="#222" stroke-width="0.8"/>
<line x1="219.00" y1="290.18" x2="222.60" y2="290.18" stroke="#222" stroke-width="0.8"/>
<line x1="219.00" y1="319.73" x2="222.60" y2="319.73" stroke="#222" stroke-width="0.8"/>
<line x1="220.80" y1="289.40" x2="220.80" y2="346.28" stroke="#222" stroke-width="0.8"/>
<line x1="219.00" y1="289.40" x2="222.60" y2="289.40" stroke="#222" stroke-width="0.8"/>
<line x1="219.00" y1="346.28" x2="222.60" y2="346.28" stroke="#222" stroke-width="0.8"/>
<line x1="220.80" y1="291.43" x2="220.80" y2="338.11" stroke="#222" stroke-width="0.8"/>
<line x1="219.00" y1="291.43" x2="222.60" y2="291.43" stroke="#222" stroke-width="0.8"/>
<line x1="219.00" y1="338.11" x2="222.60" y2="338.11" stroke="#222" stroke-width="0.8"/>
<circle cx="64.9" cy="316.8" r="3.1" fill="#cfc6f3" stroke="#9d4fd1" stroke-width="1"/>
<circle cx="84.4" cy="327.0" r="3.1" fill="#cfc6f3" stroke="#9d4fd1" stroke-width="1"/>
<circle cx="103.9" cy="327.5" r="3.1" fill="#cfc6f3" stroke="#9d4fd1" stroke-width="1"/>
<circle cx="123.4" cy="310.7" r="3.1" fill="#cfc6f3" stroke="#9d4fd1" stroke-width="1"/>
<circle cx="142.9" cy="316.4" r="3.1" fill="#cfc6f3" stroke="#9d4fd1" stroke-width="1"/>
<circle cx="162.3" cy="316.0" r="3.1" fill="#cfc6f3" stroke="#9d4fd1" stroke-width="1"/>
<circle cx="181.8" cy="328.3" r="3.1" fill="#cfc6f3" stroke="#9d4fd1" stroke-width="1"/>
<circle cx="201.3" cy="324.2" r="3.1" fill="#cfc6f3" stroke="#9d4fd1" stroke-width="1"/>
<circle cx="220.8" cy="328.3" r="3.1" fill="#cfc6f3" stroke="#9d4fd1" stroke-width="1"/>
<circle cx="64.9" cy="316.8" r="3.1" fill="#5fbf3a" stroke="#2f7a2f" stroke-width="1"/>
<circle cx="84.4" cy="321.7" r="3.1" fill="#5fbf3a" stroke="#2f7a2f" stroke-width="1"/>
<circle cx="103.9" cy="318.5" r="3.1" fill="#5fbf3a" stroke="#2f7a2f" stroke-width="1"/>
<circle cx="123.4" cy="317.2" r="3.1" fill="#5fbf3a" stroke="#2f7a2f" stroke-width="1"/>
<circle cx="142.9" cy="305.4" r="3.1" fill="#5fbf3a" stroke="#2f7a2f" stroke-width="1"/>
<circle cx="162.3" cy="325.4" r="3.1" fill="#5fbf3a" stroke="#2f7a2f" stroke-width="1"/>
<circle cx="181.8" cy="325.0" r="3.1" fill="#5fbf3a" stroke="#2f7a2f" stroke-width="1"/>
<circle cx="201.3" cy="311.5" r="3.1" fill="#5fbf3a" stroke="#2f7a2f" stroke-width="1"/>
<circle cx="220.8" cy="321.3" r="3.1" fill="#5fbf3a" stroke="#2f7a2f" stroke-width="1"/>
<circle cx="64.9" cy="316.8" r="3.1" fill="#f9cfe0" stroke="#f0383c" stroke-width="1"/>
<circle cx="84.4" cy="315.2" r="3.1" fill="#f9cfe0" stroke="#f0383c" stroke-width="1"/>
<circle cx="103.9" cy="318.9" r="3.1" fill="#f9cfe0" stroke="#f0383c" stroke-width="1"/>
<circle cx="123.4" cy="305.4" r="3.1" fill="#f9cfe0" stroke="#f0383c" stroke-width="1"/>
<circle cx="142.9" cy="307.4" r="3.1" fill="#f9cfe0" stroke="#f0383c" stroke-width="1"/>
<circle cx="162.3" cy="304.5" r="3.1" fill="#f9cfe0" stroke="#f0383c" stroke-width="1"/>
<circle cx="181.8" cy="325.4" r="3.1" fill="#f9cfe0" stroke="#f0383c" stroke-width="1"/>
<circle cx="201.3" cy="328.3" r="3.1" fill="#f9cfe0" stroke="#f0383c" stroke-width="1"/>
<circle cx="220.8" cy="310.7" r="3.1" fill="#f9cfe0" stroke="#f0383c" stroke-width="1"/>
<circle cx="64.9" cy="316.8" r="3.1" fill="#ffffff" stroke="#1e1e1e" stroke-width="1"/>
<circle cx="84.4" cy="307.4" r="3.1" fill="#ffffff" stroke="#1e1e1e" stroke-width="1"/>
<circle cx="103.9" cy="320.1" r="3.1" fill="#ffffff" stroke="#1e1e1e" stroke-width="1"/>
<circle cx="123.4" cy="312.7" r="3.1" fill="#ffffff" stroke="#1e1e1e" stroke-width="1"/>
<circle cx="142.9" cy="311.5" r="3.1" fill="#ffffff" stroke="#1e1e1e" stroke-width="1"/>
<circle cx="162.3" cy="324.2" r="3.1" fill="#ffffff" stroke="#1e1e1e" stroke-width="1"/>
<circle cx="181.8" cy="323.4" r="3.1" fill="#ffffff" stroke="#1e1e1e" stroke-width="1"/>
<circle cx="201.3" cy="323.0" r="3.1" fill="#ffffff" stroke="#1e1e1e" stroke-width="1"/>
<circle cx="220.8" cy="305.0" r="3.1" fill="#ffffff" stroke="#1e1e1e" stroke-width="1"/>
<circle cx="64.9" cy="316.8" r="3.1" fill="#1f8fd6" stroke="#2a5f9e" stroke-width="1"/>
<circle cx="84.4" cy="315.2" r="3.1" fill="#1f8fd6" stroke="#2a5f9e" stroke-width="1"/>
<circle cx="103.9" cy="316.8" r="3.1" fill="#1f8fd6" stroke="#2a5f9e" stroke-width="1"/>
<circle cx="123.4" cy="323.4" r="3.1" fill="#1f8fd6" stroke="#2a5f9e" stroke-width="1"/>
<circle cx="142.9" cy="326.6" r="3.1" fill="#1f8fd6" stroke="#2a5f9e" stroke-width="1"/>
<circle cx="162.3" cy="326.6" r="3.1" fill="#1f8fd6" stroke="#2a5f9e" stroke-width="1"/>
<circle cx="181.8" cy="314.8" r="3.1" fill="#1f8fd6" stroke="#2a5f9e" stroke-width="1"/>
<circle cx="201.3" cy="318.5" r="3.1" fill="#1f8fd6" stroke="#2a5f9e" stroke-width="1"/>
<circle cx="220.8" cy="318.9" r="3.1" fill="#1f8fd6" stroke="#2a5f9e" stroke-width="1"/>
<circle cx="64.9" cy="316.8" r="3.1" fill="#ffe100" stroke="#f0a42a" stroke-width="1"/>
<circle cx="84.4" cy="309.9" r="3.1" fill="#ffe100" stroke="#f0a42a" stroke-width="1"/>
<circle cx="103.9" cy="308.6" r="3.1" fill="#ffe100" stroke="#f0a42a" stroke-width="1"/>
<circle cx="123.4" cy="310.7" r="3.1" fill="#ffe100" stroke="#f0a42a" stroke-width="1"/>
<circle cx="142.9" cy="325.8" r="3.1" fill="#ffe100" stroke="#f0a42a" stroke-width="1"/>
<circle cx="162.3" cy="316.0" r="3.1" fill="#ffe100" stroke="#f0a42a" stroke-width="1"/>
<circle cx="181.8" cy="326.6" r="3.1" fill="#ffe100" stroke="#f0a42a" stroke-width="1"/>
<circle cx="201.3" cy="325.4" r="3.1" fill="#ffe100" stroke="#f0a42a" stroke-width="1"/>
<circle cx="220.8" cy="314.8" r="3.1" fill="#ffe100" stroke="#f0a42a" stroke-width="1"/>
<line x1="75.10" y1="354.50" x2="92.30" y2="354.50" stroke="#9d4fd1" stroke-width="1.1"/>
<circle cx="83.9" cy="354.5" r="3.2" fill="#cfc6f3" stroke="#9d4fd1" stroke-width="1.05"/>
<text x="94.10" y="358.30" font-size="10" text-anchor="start" fill="#111" stroke="#111" stroke-width="0.22">MS</text>
<line x1="126.30" y1="354.50" x2="143.50" y2="354.50" stroke="#3a8f3a" stroke-width="1.1"/>
<circle cx="135.1" cy="354.5" r="3.2" fill="#5fbf3a" stroke="#2f7a2f" stroke-width="1.05"/>
<text x="145.30" y="358.30" font-size="10" text-anchor="start" fill="#111" stroke="#111" stroke-width="0.22">PS</text>
<line x1="177.50" y1="354.50" x2="194.70" y2="354.50" stroke="#f0383c" stroke-width="1.1"/>
<circle cx="186.3" cy="354.5" r="3.2" fill="#f9cfe0" stroke="#f0383c" stroke-width="1.05"/>
<text x="196.50" y="358.30" font-size="10" text-anchor="start" fill="#111" stroke="#111" stroke-width="0.22">WS</text>
<line x1="75.10" y1="368.80" x2="92.30" y2="368.80" stroke="#1e1e1e" stroke-width="1.1"/>
<circle cx="83.9" cy="368.8" r="3.2" fill="#ffffff" stroke="#1e1e1e" stroke-width="1.05"/>
<text x="94.10" y="372.60" font-size="10" text-anchor="start" fill="#111" stroke="#111" stroke-width="0.22">FMS</text>
<line x1="126.30" y1="368.80" x2="143.50" y2="368.80" stroke="#2c66ad" stroke-width="1.1"/>
<circle cx="135.1" cy="368.8" r="3.2" fill="#1f8fd6" stroke="#2a5f9e" stroke-width="1.05"/>
<text x="145.30" y="372.60" font-size="10" text-anchor="start" fill="#111" stroke="#111" stroke-width="0.22">FPS</text>
<line x1="177.50" y1="368.80" x2="194.70" y2="368.80" stroke="#f0a42a" stroke-width="1.1"/>
<circle cx="186.3" cy="368.8" r="3.2" fill="#ffe100" stroke="#f0a42a" stroke-width="1.05"/>
<text x="196.50" y="372.60" font-size="10" text-anchor="start" fill="#111" stroke="#111" stroke-width="0.22">FWS</text>
<line x1="285.50" y1="275.50" x2="285.50" y2="379.00" stroke="#262626" stroke-width="1"/>
<line x1="285.00" y1="378.50" x2="441.90" y2="378.50" stroke="#262626" stroke-width="1"/>
<line x1="285.50" y1="378.50" x2="288.00" y2="378.50" stroke="#262626" stroke-width="1"/>
<text x="276.30" y="382.00" font-size="10.4" text-anchor="end" fill="#222" stroke="#222" stroke-width="0.22">85</text>
<line x1="285.50" y1="357.50" x2="288.00" y2="357.50" stroke="#262626" stroke-width="1"/>
<text x="276.30" y="361.00" font-size="10.4" text-anchor="end" fill="#222" stroke="#222" stroke-width="0.22">90</text>
<line x1="285.50" y1="337.50" x2="288.00" y2="337.50" stroke="#262626" stroke-width="1"/>
<text x="276.30" y="341.00" font-size="10.4" text-anchor="end" fill="#222" stroke="#222" stroke-width="0.22">95</text>
<line x1="285.50" y1="316.50" x2="288.00" y2="316.50" stroke="#262626" stroke-width="1"/>
<text x="276.30" y="320.00" font-size="10.4" text-anchor="end" fill="#222" stroke="#222" stroke-width="0.22">100</text>
<line x1="285.50" y1="296.50" x2="288.00" y2="296.50" stroke="#262626" stroke-width="1"/>
<text x="276.30" y="300.00" font-size="10.4" text-anchor="end" fill="#222" stroke="#222" stroke-width="0.22">105</text>
<line x1="285.50" y1="275.50" x2="288.00" y2="275.50" stroke="#262626" stroke-width="1"/>
<text x="276.30" y="279.00" font-size="10.4" text-anchor="end" fill="#222" stroke="#222" stroke-width="0.22">110</text>
<text x="285.50" y="393.90" font-size="10.4" text-anchor="middle" fill="#222" stroke="#222" stroke-width="0.22">0</text>
<line x1="324.50" y1="378.50" x2="324.50" y2="376.00" stroke="#262626" stroke-width="1"/>
<text x="324.48" y="393.90" font-size="10.4" text-anchor="middle" fill="#222" stroke="#222" stroke-width="0.22">50</text>
<line x1="363.50" y1="378.50" x2="363.50" y2="376.00" stroke="#262626" stroke-width="1"/>
<text x="363.45" y="393.90" font-size="10.4" text-anchor="middle" fill="#222" stroke="#222" stroke-width="0.22">100</text>
<line x1="402.50" y1="378.50" x2="402.50" y2="376.00" stroke="#262626" stroke-width="1"/>
<text x="402.43" y="393.90" font-size="10.4" text-anchor="middle" fill="#222" stroke="#222" stroke-width="0.22">150</text>
<line x1="441.50" y1="378.50" x2="441.50" y2="376.00" stroke="#262626" stroke-width="1"/>
<text x="441.40" y="393.90" font-size="10.4" text-anchor="middle" fill="#222" stroke="#222" stroke-width="0.22">200</text>
<text x="364.95" y="406.80" font-size="10.4" font-weight="bold" text-anchor="middle" fill="#000" stroke="#000" stroke-width="0.18">Concentration (μg mL⁻¹)</text>
<text x="254.90" y="326.60" font-size="10.4" font-weight="bold" text-anchor="middle" fill="#000" transform="rotate(-90 254.9 326.59999999999997)" stroke="#000" stroke-width="0.18">Viability (%)</text>
<text x="243.40" y="277.00" font-size="10.4" font-weight="bold" text-anchor="start" fill="#000" stroke="#000" stroke-width="0.18">(b)</text>
<polyline fill="none" stroke="#9d4fd1" stroke-width="1.1" points="285.5,316.8 305.0,314.8 324.5,315.6 344.0,305.8 363.4,313.1 382.9,308.6 402.4,306.2 421.9,318.9 441.4,325.8"/>
<polyline fill="none" stroke="#3a8f3a" stroke-width="1.1" points="285.5,316.8 305.0,320.9 324.5,314.8 344.0,325.0 363.4,326.2 382.9,320.5 402.4,328.7 421.9,320.9 441.4,325.0"/>
<polyline fill="none" stroke="#f0383c" stroke-width="1.1" points="285.5,316.8 305.0,326.2 324.5,323.0 344.0,313.5 363.4,310.7 382.9,308.6 402.4,320.9 421.9,324.2 441.4,315.6"/>
<polyline fill="none" stroke="#1e1e1e" stroke-width="1.1" points="285.5,316.8 305.0,320.1 324.5,320.9 344.0,327.0 363.4,308.6 382.9,324.2 402.4,316.8 421.9,323.4 441.4,320.5"/>
<polyline fill="none" stroke="#2c66ad" stroke-width="1.1" points="285.5,316.8 305.0,324.2 324.5,318.9 344.0,316.8 363.4,327.0 382.9,307.0 402.4,305.4 421.9,318.0 441.4,329.5"/>
<polyline fill="none" stroke="#f0a42a" stroke-width="1.1" points="285.5,316.8 305.0,316.4 324.5,325.0 344.0,311.9 363.4,326.2 382.9,310.7 402.4,315.6 421.9,313.1 441.4,325.4"/>
<line x1="304.99" y1="302.35" x2="304.99" y2="327.20" stroke="#222" stroke-width="0.8"/>
<line x1="303.19" y1="302.35" x2="306.79" y2="302.35" stroke="#222" stroke-width="0.8"/>
<line x1="303.19" y1="327.20" x2="306.79" y2="327.20" stroke="#222" stroke-width="0.8"/>
<line x1="304.99" y1="308.60" x2="304.99" y2="333.23" stroke="#222" stroke-width="0.8"/>
<line x1="303.19" y1="308.60" x2="306.79" y2="308.60" stroke="#222" stroke-width="0.8"/>
<line x1="303.19" y1="333.23" x2="306.79" y2="333.23" stroke="#222" stroke-width="0.8"/>
<line x1="304.99" y1="313.96" x2="304.99" y2="338.51" stroke="#222" stroke-width="0.8"/>
<line x1="303.19" y1="313.96" x2="306.79" y2="313.96" stroke="#222" stroke-width="0.8"/>
<line x1="303.19" y1="338.51" x2="306.79" y2="338.51" stroke="#222" stroke-width="0.8"/>
<line x1="304.99" y1="304.44" x2="304.99" y2="335.75" stroke="#222" stroke-width="0.8"/>
<line x1="303.19" y1="304.44" x2="306.79" y2="304.44" stroke="#222" stroke-width="0.8"/>
<line x1="303.19" y1="335.75" x2="306.79" y2="335.75" stroke="#222" stroke-width="0.8"/>
<line x1="304.99" y1="310.58" x2="304.99" y2="337.79" stroke="#222" stroke-width="0.8"/>
<line x1="303.19" y1="310.58" x2="306.79" y2="310.58" stroke="#222" stroke-width="0.8"/>
<line x1="303.19" y1="337.79" x2="306.79" y2="337.79" stroke="#222" stroke-width="0.8"/>
<line x1="304.99" y1="301.27" x2="304.99" y2="338.51" stroke="#222" stroke-width="0.8"/>
<line x1="303.19" y1="301.27" x2="306.79" y2="301.27" stroke="#222" stroke-width="0.8"/>
<line x1="303.19" y1="338.51" x2="306.79" y2="338.51" stroke="#222" stroke-width="0.8"/>
<line x1="324.48" y1="304.13" x2="324.48" y2="327.05" stroke="#222" stroke-width="0.8"/>
<line x1="322.68" y1="304.13" x2="326.28" y2="304.13" stroke="#222" stroke-width="0.8"/>
<line x1="322.68" y1="327.05" x2="326.28" y2="327.05" stroke="#222" stroke-width="0.8"/>
<line x1="324.48" y1="299.22" x2="324.48" y2="330.32" stroke="#222" stroke-width="0.8"/>
<line x1="322.68" y1="299.22" x2="326.28" y2="299.22" stroke="#222" stroke-width="0.8"/>
<line x1="322.68" y1="330.32" x2="326.28" y2="330.32" stroke="#222" stroke-width="0.8"/>
<line x1="324.48" y1="308.35" x2="324.48" y2="337.57" stroke="#222" stroke-width="0.8"/>
<line x1="322.68" y1="308.35" x2="326.28" y2="308.35" stroke="#222" stroke-width="0.8"/>
<line x1="322.68" y1="337.57" x2="326.28" y2="337.57" stroke="#222" stroke-width="0.8"/>
<line x1="324.48" y1="302.64" x2="324.48" y2="339.18" stroke="#222" stroke-width="0.8"/>
<line x1="322.68" y1="302.64" x2="326.28" y2="302.64" stroke="#222" stroke-width="0.8"/>
<line x1="322.68" y1="339.18" x2="326.28" y2="339.18" stroke="#222" stroke-width="0.8"/>
<line x1="324.48" y1="299.22" x2="324.48" y2="340.14" stroke="#222" stroke-width="0.8"/>
<line x1="322.68" y1="299.22" x2="326.28" y2="299.22" stroke="#222" stroke-width="0.8"/>
<line x1="322.68" y1="340.14" x2="326.28" y2="340.14" stroke="#222" stroke-width="0.8"/>
<line x1="324.48" y1="311.07" x2="324.48" y2="338.93" stroke="#222" stroke-width="0.8"/>
<line x1="322.68" y1="311.07" x2="326.28" y2="311.07" stroke="#222" stroke-width="0.8"/>
<line x1="322.68" y1="338.93" x2="326.28" y2="338.93" stroke="#222" stroke-width="0.8"/>
<line x1="343.96" y1="294.31" x2="343.96" y2="317.23" stroke="#222" stroke-width="0.8"/>
<line x1="342.16" y1="294.31" x2="345.76" y2="294.31" stroke="#222" stroke-width="0.8"/>
<line x1="342.16" y1="317.23" x2="345.76" y2="317.23" stroke="#222" stroke-width="0.8"/>
<line x1="343.96" y1="311.09" x2="343.96" y2="338.92" stroke="#222" stroke-width="0.8"/>
<line x1="342.16" y1="311.09" x2="345.76" y2="311.09" stroke="#222" stroke-width="0.8"/>
<line x1="342.16" y1="338.92" x2="345.76" y2="338.92" stroke="#222" stroke-width="0.8"/>
<line x1="343.96" y1="295.28" x2="343.96" y2="331.82" stroke="#222" stroke-width="0.8"/>
<line x1="342.16" y1="295.28" x2="345.76" y2="295.28" stroke="#222" stroke-width="0.8"/>
<line x1="342.16" y1="331.82" x2="345.76" y2="331.82" stroke="#222" stroke-width="0.8"/>
<line x1="343.96" y1="294.31" x2="343.96" y2="341.37" stroke="#222" stroke-width="0.8"/>
<line x1="342.16" y1="294.31" x2="345.76" y2="294.31" stroke="#222" stroke-width="0.8"/>
<line x1="342.16" y1="341.37" x2="345.76" y2="341.37" stroke="#222" stroke-width="0.8"/>
<line x1="343.96" y1="296.11" x2="343.96" y2="337.53" stroke="#222" stroke-width="0.8"/>
<line x1="342.16" y1="296.11" x2="345.76" y2="296.11" stroke="#222" stroke-width="0.8"/>
<line x1="342.16" y1="337.53" x2="345.76" y2="337.53" stroke="#222" stroke-width="0.8"/>
<line x1="343.96" y1="299.59" x2="343.96" y2="324.23" stroke="#222" stroke-width="0.8"/>
<line x1="342.16" y1="299.59" x2="345.76" y2="299.59" stroke="#222" stroke-width="0.8"/>
<line x1="342.16" y1="324.23" x2="345.76" y2="324.23" stroke="#222" stroke-width="0.8"/>
<line x1="363.45" y1="296.79" x2="363.45" y2="329.48" stroke="#222" stroke-width="0.8"/>
<line x1="361.65" y1="296.79" x2="365.25" y2="296.79" stroke="#222" stroke-width="0.8"/>
<line x1="361.65" y1="329.48" x2="365.25" y2="329.48" stroke="#222" stroke-width="0.8"/>
<line x1="363.45" y1="314.96" x2="363.45" y2="337.51" stroke="#222" stroke-width="0.8"/>
<line x1="361.65" y1="314.96" x2="365.25" y2="314.96" stroke="#222" stroke-width="0.8"/>
<line x1="361.65" y1="337.51" x2="365.25" y2="337.51" stroke="#222" stroke-width="0.8"/>
<line x1="363.45" y1="293.90" x2="363.45" y2="338.10" stroke="#222" stroke-width="0.8"/>
<line x1="361.65" y1="293.90" x2="365.25" y2="293.90" stroke="#222" stroke-width="0.8"/>
<line x1="361.65" y1="338.10" x2="365.25" y2="338.10" stroke="#222" stroke-width="0.8"/>
<line x1="363.45" y1="295.08" x2="363.45" y2="322.19" stroke="#222" stroke-width="0.8"/>
<line x1="361.65" y1="295.08" x2="365.25" y2="295.08" stroke="#222" stroke-width="0.8"/>
<line x1="361.65" y1="322.19" x2="365.25" y2="322.19" stroke="#222" stroke-width="0.8"/>
<line x1="363.45" y1="319.32" x2="363.45" y2="334.78" stroke="#222" stroke-width="0.8"/>
<line x1="361.65" y1="319.32" x2="365.25" y2="319.32" stroke="#222" stroke-width="0.8"/>
<line x1="361.65" y1="334.78" x2="365.25" y2="334.78" stroke="#222" stroke-width="0.8"/>
<line x1="363.45" y1="314.36" x2="363.45" y2="338.10" stroke="#222" stroke-width="0.8"/>
<line x1="361.65" y1="314.36" x2="365.25" y2="314.36" stroke="#222" stroke-width="0.8"/>
<line x1="361.65" y1="338.10" x2="365.25" y2="338.10" stroke="#222" stroke-width="0.8"/>
<line x1="382.94" y1="293.09" x2="382.94" y2="324.19" stroke="#222" stroke-width="0.8"/>
<line x1="381.14" y1="293.09" x2="384.74" y2="293.09" stroke="#222" stroke-width="0.8"/>
<line x1="381.14" y1="324.19" x2="384.74" y2="324.19" stroke="#222" stroke-width="0.8"/>
<line x1="382.94" y1="292.27" x2="382.94" y2="340.14" stroke="#222" stroke-width="0.8"/>
<line x1="381.14" y1="292.27" x2="384.74" y2="292.27" stroke="#222" stroke-width="0.8"/>
<line x1="381.14" y1="340.14" x2="384.74" y2="340.14" stroke="#222" stroke-width="0.8"/>
<line x1="382.94" y1="293.58" x2="382.94" y2="323.69" stroke="#222" stroke-width="0.8"/>
<line x1="381.14" y1="293.58" x2="384.74" y2="293.58" stroke="#222" stroke-width="0.8"/>
<line x1="381.14" y1="323.69" x2="384.74" y2="323.69" stroke="#222" stroke-width="0.8"/>
<line x1="382.94" y1="313.01" x2="382.94" y2="335.36" stroke="#222" stroke-width="0.8"/>
<line x1="381.14" y1="313.01" x2="384.74" y2="313.01" stroke="#222" stroke-width="0.8"/>
<line x1="381.14" y1="335.36" x2="384.74" y2="335.36" stroke="#222" stroke-width="0.8"/>
<line x1="382.94" y1="292.27" x2="382.94" y2="321.73" stroke="#222" stroke-width="0.8"/>
<line x1="381.14" y1="292.27" x2="384.74" y2="292.27" stroke="#222" stroke-width="0.8"/>
<line x1="381.14" y1="321.73" x2="384.74" y2="321.73" stroke="#222" stroke-width="0.8"/>
<line x1="382.94" y1="295.03" x2="382.94" y2="326.33" stroke="#222" stroke-width="0.8"/>
<line x1="381.14" y1="295.03" x2="384.74" y2="295.03" stroke="#222" stroke-width="0.8"/>
<line x1="381.14" y1="326.33" x2="384.74" y2="326.33" stroke="#222" stroke-width="0.8"/>
<line x1="402.43" y1="289.81" x2="402.43" y2="340.14" stroke="#222" stroke-width="0.8"/>
<line x1="400.62" y1="289.81" x2="404.23" y2="289.81" stroke="#222" stroke-width="0.8"/>
<line x1="400.62" y1="340.14" x2="404.23" y2="340.14" stroke="#222" stroke-width="0.8"/>
<line x1="402.43" y1="318.15" x2="402.43" y2="339.23" stroke="#222" stroke-width="0.8"/>
<line x1="400.62" y1="318.15" x2="404.23" y2="318.15" stroke="#222" stroke-width="0.8"/>
<line x1="400.62" y1="339.23" x2="404.23" y2="339.23" stroke="#222" stroke-width="0.8"/>
<line x1="402.43" y1="307.45" x2="402.43" y2="334.37" stroke="#222" stroke-width="0.8"/>
<line x1="400.62" y1="307.45" x2="404.23" y2="307.45" stroke="#222" stroke-width="0.8"/>
<line x1="400.62" y1="334.37" x2="404.23" y2="334.37" stroke="#222" stroke-width="0.8"/>
<line x1="402.43" y1="293.50" x2="402.43" y2="340.14" stroke="#222" stroke-width="0.8"/>
<line x1="400.62" y1="293.50" x2="404.23" y2="293.50" stroke="#222" stroke-width="0.8"/>
<line x1="400.62" y1="340.14" x2="404.23" y2="340.14" stroke="#222" stroke-width="0.8"/>
<line x1="402.43" y1="292.15" x2="402.43" y2="318.58" stroke="#222" stroke-width="0.8"/>
<line x1="400.62" y1="292.15" x2="404.23" y2="292.15" stroke="#222" stroke-width="0.8"/>
<line x1="400.62" y1="318.58" x2="404.23" y2="318.58" stroke="#222" stroke-width="0.8"/>
<line x1="402.43" y1="292.27" x2="402.43" y2="338.92" stroke="#222" stroke-width="0.8"/>
<line x1="400.62" y1="292.27" x2="404.23" y2="292.27" stroke="#222" stroke-width="0.8"/>
<line x1="400.62" y1="338.92" x2="404.23" y2="338.92" stroke="#222" stroke-width="0.8"/>
<line x1="421.91" y1="302.68" x2="421.91" y2="335.05" stroke="#222" stroke-width="0.8"/>
<line x1="420.11" y1="302.68" x2="423.71" y2="302.68" stroke="#222" stroke-width="0.8"/>
<line x1="420.11" y1="335.05" x2="423.71" y2="335.05" stroke="#222" stroke-width="0.8"/>
<line x1="421.91" y1="310.03" x2="421.91" y2="331.80" stroke="#222" stroke-width="0.8"/>
<line x1="420.11" y1="310.03" x2="423.71" y2="310.03" stroke="#222" stroke-width="0.8"/>
<line x1="420.11" y1="331.80" x2="423.71" y2="331.80" stroke="#222" stroke-width="0.8"/>
<line x1="421.91" y1="311.91" x2="421.91" y2="336.46" stroke="#222" stroke-width="0.8"/>
<line x1="420.11" y1="311.91" x2="423.71" y2="311.91" stroke="#222" stroke-width="0.8"/>
<line x1="420.11" y1="336.46" x2="423.71" y2="336.46" stroke="#222" stroke-width="0.8"/>
<line x1="421.91" y1="312.24" x2="421.91" y2="334.50" stroke="#222" stroke-width="0.8"/>
<line x1="420.11" y1="312.24" x2="423.71" y2="312.24" stroke="#222" stroke-width="0.8"/>
<line x1="420.11" y1="334.50" x2="423.71" y2="334.50" stroke="#222" stroke-width="0.8"/>
<line x1="421.91" y1="300.55" x2="421.91" y2="335.54" stroke="#222" stroke-width="0.8"/>
<line x1="420.11" y1="300.55" x2="423.71" y2="300.55" stroke="#222" stroke-width="0.8"/>
<line x1="420.11" y1="335.54" x2="423.71" y2="335.54" stroke="#222" stroke-width="0.8"/>
<line x1="421.91" y1="298.82" x2="421.91" y2="336.46" stroke="#222" stroke-width="0.8"/>
<line x1="420.11" y1="298.82" x2="423.71" y2="298.82" stroke="#222" stroke-width="0.8"/>
<line x1="420.11" y1="336.46" x2="423.71" y2="336.46" stroke="#222" stroke-width="0.8"/>
<line x1="441.40" y1="315.22" x2="441.40" y2="336.42" stroke="#222" stroke-width="0.8"/>
<line x1="439.60" y1="315.22" x2="443.20" y2="315.22" stroke="#222" stroke-width="0.8"/>
<line x1="439.60" y1="336.42" x2="443.20" y2="336.42" stroke="#222" stroke-width="0.8"/>
<line x1="441.40" y1="309.05" x2="441.40" y2="340.96" stroke="#222" stroke-width="0.8"/>
<line x1="439.60" y1="309.05" x2="443.20" y2="309.05" stroke="#222" stroke-width="0.8"/>
<line x1="439.60" y1="340.96" x2="443.20" y2="340.96" stroke="#222" stroke-width="0.8"/>
<line x1="441.40" y1="304.81" x2="441.40" y2="326.37" stroke="#222" stroke-width="0.8"/>
<line x1="439.60" y1="304.81" x2="443.20" y2="304.81" stroke="#222" stroke-width="0.8"/>
<line x1="439.60" y1="326.37" x2="443.20" y2="326.37" stroke="#222" stroke-width="0.8"/>
<line x1="441.40" y1="303.79" x2="441.40" y2="337.22" stroke="#222" stroke-width="0.8"/>
<line x1="439.60" y1="303.79" x2="443.20" y2="303.79" stroke="#222" stroke-width="0.8"/>
<line x1="439.60" y1="337.22" x2="443.20" y2="337.22" stroke="#222" stroke-width="0.8"/>
<line x1="441.40" y1="302.91" x2="441.40" y2="340.96" stroke="#222" stroke-width="0.8"/>
<line x1="439.60" y1="302.91" x2="443.20" y2="302.91" stroke="#222" stroke-width="0.8"/>
<line x1="439.60" y1="340.96" x2="443.20" y2="340.96" stroke="#222" stroke-width="0.8"/>
<line x1="441.40" y1="311.11" x2="441.40" y2="339.72" stroke="#222" stroke-width="0.8"/>
<line x1="439.60" y1="311.11" x2="443.20" y2="311.11" stroke="#222" stroke-width="0.8"/>
<line x1="439.60" y1="339.72" x2="443.20" y2="339.72" stroke="#222" stroke-width="0.8"/>
<circle cx="285.5" cy="316.8" r="3.1" fill="#cfc6f3" stroke="#9d4fd1" stroke-width="1"/>
<circle cx="305.0" cy="314.8" r="3.1" fill="#cfc6f3" stroke="#9d4fd1" stroke-width="1"/>
<circle cx="324.5" cy="315.6" r="3.1" fill="#cfc6f3" stroke="#9d4fd1" stroke-width="1"/>
<circle cx="344.0" cy="305.8" r="3.1" fill="#cfc6f3" stroke="#9d4fd1" stroke-width="1"/>
<circle cx="363.4" cy="313.1" r="3.1" fill="#cfc6f3" stroke="#9d4fd1" stroke-width="1"/>
<circle cx="382.9" cy="308.6" r="3.1" fill="#cfc6f3" stroke="#9d4fd1" stroke-width="1"/>
<circle cx="402.4" cy="306.2" r="3.1" fill="#cfc6f3" stroke="#9d4fd1" stroke-width="1"/>
<circle cx="421.9" cy="318.9" r="3.1" fill="#cfc6f3" stroke="#9d4fd1" stroke-width="1"/>
<circle cx="441.4" cy="325.8" r="3.1" fill="#cfc6f3" stroke="#9d4fd1" stroke-width="1"/>
<circle cx="285.5" cy="316.8" r="3.1" fill="#5fbf3a" stroke="#2f7a2f" stroke-width="1"/>
<circle cx="305.0" cy="320.9" r="3.1" fill="#5fbf3a" stroke="#2f7a2f" stroke-width="1"/>
<circle cx="324.5" cy="314.8" r="3.1" fill="#5fbf3a" stroke="#2f7a2f" stroke-width="1"/>
<circle cx="344.0" cy="325.0" r="3.1" fill="#5fbf3a" stroke="#2f7a2f" stroke-width="1"/>
<circle cx="363.4" cy="326.2" r="3.1" fill="#5fbf3a" stroke="#2f7a2f" stroke-width="1"/>
<circle cx="382.9" cy="320.5" r="3.1" fill="#5fbf3a" stroke="#2f7a2f" stroke-width="1"/>
<circle cx="402.4" cy="328.7" r="3.1" fill="#5fbf3a" stroke="#2f7a2f" stroke-width="1"/>
<circle cx="421.9" cy="320.9" r="3.1" fill="#5fbf3a" stroke="#2f7a2f" stroke-width="1"/>
<circle cx="441.4" cy="325.0" r="3.1" fill="#5fbf3a" stroke="#2f7a2f" stroke-width="1"/>
<circle cx="285.5" cy="316.8" r="3.1" fill="#f9cfe0" stroke="#f0383c" stroke-width="1"/>
<circle cx="305.0" cy="326.2" r="3.1" fill="#f9cfe0" stroke="#f0383c" stroke-width="1"/>
<circle cx="324.5" cy="323.0" r="3.1" fill="#f9cfe0" stroke="#f0383c" stroke-width="1"/>
<circle cx="344.0" cy="313.5" r="3.1" fill="#f9cfe0" stroke="#f0383c" stroke-width="1"/>
<circle cx="363.4" cy="310.7" r="3.1" fill="#f9cfe0" stroke="#f0383c" stroke-width="1"/>
<circle cx="382.9" cy="308.6" r="3.1" fill="#f9cfe0" stroke="#f0383c" stroke-width="1"/>
<circle cx="402.4" cy="320.9" r="3.1" fill="#f9cfe0" stroke="#f0383c" stroke-width="1"/>
<circle cx="421.9" cy="324.2" r="3.1" fill="#f9cfe0" stroke="#f0383c" stroke-width="1"/>
<circle cx="441.4" cy="315.6" r="3.1" fill="#f9cfe0" stroke="#f0383c" stroke-width="1"/>
<circle cx="285.5" cy="316.8" r="3.1" fill="#ffffff" stroke="#1e1e1e" stroke-width="1"/>
<circle cx="305.0" cy="320.1" r="3.1" fill="#ffffff" stroke="#1e1e1e" stroke-width="1"/>
<circle cx="324.5" cy="320.9" r="3.1" fill="#ffffff" stroke="#1e1e1e" stroke-width="1"/>
<circle cx="344.0" cy="327.0" r="3.1" fill="#ffffff" stroke="#1e1e1e" stroke-width="1"/>
<circle cx="363.4" cy="308.6" r="3.1" fill="#ffffff" stroke="#1e1e1e" stroke-width="1"/>
<circle cx="382.9" cy="324.2" r="3.1" fill="#ffffff" stroke="#1e1e1e" stroke-width="1"/>
<circle cx="402.4" cy="316.8" r="3.1" fill="#ffffff" stroke="#1e1e1e" stroke-width="1"/>
<circle cx="421.9" cy="323.4" r="3.1" fill="#ffffff" stroke="#1e1e1e" stroke-width="1"/>
<circle cx="441.4" cy="320.5" r="3.1" fill="#ffffff" stroke="#1e1e1e" stroke-width="1"/>
<circle cx="285.5" cy="316.8" r="3.1" fill="#1f8fd6" stroke="#2a5f9e" stroke-width="1"/>
<circle cx="305.0" cy="324.2" r="3.1" fill="#1f8fd6" stroke="#2a5f9e" stroke-width="1"/>
<circle cx="324.5" cy="318.9" r="3.1" fill="#1f8fd6" stroke="#2a5f9e" stroke-width="1"/>
<circle cx="344.0" cy="316.8" r="3.1" fill="#1f8fd6" stroke="#2a5f9e" stroke-width="1"/>
<circle cx="363.4" cy="327.0" r="3.1" fill="#1f8fd6" stroke="#2a5f9e" stroke-width="1"/>
<circle cx="382.9" cy="307.0" r="3.1" fill="#1f8fd6" stroke="#2a5f9e" stroke-width="1"/>
<circle cx="402.4" cy="305.4" r="3.1" fill="#1f8fd6" stroke="#2a5f9e" stroke-width="1"/>
<circle cx="421.9" cy="318.0" r="3.1" fill="#1f8fd6" stroke="#2a5f9e" stroke-width="1"/>
<circle cx="441.4" cy="329.5" r="3.1" fill="#1f8fd6" stroke="#2a5f9e" stroke-width="1"/>
<circle cx="285.5" cy="316.8" r="3.1" fill="#ffe100" stroke="#f0a42a" stroke-width="1"/>
<circle cx="305.0" cy="316.4" r="3.1" fill="#ffe100" stroke="#f0a42a" stroke-width="1"/>
<circle cx="324.5" cy="325.0" r="3.1" fill="#ffe100" stroke="#f0a42a" stroke-width="1"/>
<circle cx="344.0" cy="311.9" r="3.1" fill="#ffe100" stroke="#f0a42a" stroke-width="1"/>
<circle cx="363.4" cy="326.2" r="3.1" fill="#ffe100" stroke="#f0a42a" stroke-width="1"/>
<circle cx="382.9" cy="310.7" r="3.1" fill="#ffe100" stroke="#f0a42a" stroke-width="1"/>
<circle cx="402.4" cy="315.6" r="3.1" fill="#ffe100" stroke="#f0a42a" stroke-width="1"/>
<circle cx="421.9" cy="313.1" r="3.1" fill="#ffe100" stroke="#f0a42a" stroke-width="1"/>
<circle cx="441.4" cy="325.4" r="3.1" fill="#ffe100" stroke="#f0a42a" stroke-width="1"/>
<line x1="295.70" y1="354.50" x2="312.90" y2="354.50" stroke="#9d4fd1" stroke-width="1.1"/>
<circle cx="304.5" cy="354.5" r="3.2" fill="#cfc6f3" stroke="#9d4fd1" stroke-width="1.05"/>
<text x="314.70" y="358.30" font-size="10" text-anchor="start" fill="#111" stroke="#111" stroke-width="0.22">MS</text>
<line x1="346.90" y1="354.50" x2="364.10" y2="354.50" stroke="#3a8f3a" stroke-width="1.1"/>
<circle cx="355.7" cy="354.5" r="3.2" fill="#5fbf3a" stroke="#2f7a2f" stroke-width="1.05"/>
<text x="365.90" y="358.30" font-size="10" text-anchor="start" fill="#111" stroke="#111" stroke-width="0.22">PS</text>
<line x1="398.10" y1="354.50" x2="415.30" y2="354.50" stroke="#f0383c" stroke-width="1.1"/>
<circle cx="406.9" cy="354.5" r="3.2" fill="#f9cfe0" stroke="#f0383c" stroke-width="1.05"/>
<text x="417.10" y="358.30" font-size="10" text-anchor="start" fill="#111" stroke="#111" stroke-width="0.22">WS</text>
<line x1="295.70" y1="368.80" x2="312.90" y2="368.80" stroke="#1e1e1e" stroke-width="1.1"/>
<circle cx="304.5" cy="368.8" r="3.2" fill="#ffffff" stroke="#1e1e1e" stroke-width="1.05"/>
<text x="314.70" y="372.60" font-size="10" text-anchor="start" fill="#111" stroke="#111" stroke-width="0.22">FMS</text>
<line x1="346.90" y1="368.80" x2="364.10" y2="368.80" stroke="#2c66ad" stroke-width="1.1"/>
<circle cx="355.7" cy="368.8" r="3.2" fill="#1f8fd6" stroke="#2a5f9e" stroke-width="1.05"/>
<text x="365.90" y="372.60" font-size="10" text-anchor="start" fill="#111" stroke="#111" stroke-width="0.22">FPS</text>
<line x1="398.10" y1="368.80" x2="415.30" y2="368.80" stroke="#f0a42a" stroke-width="1.1"/>
<circle cx="406.9" cy="368.8" r="3.2" fill="#ffe100" stroke="#f0a42a" stroke-width="1.05"/>
<text x="417.10" y="372.60" font-size="10" text-anchor="start" fill="#111" stroke="#111" stroke-width="0.22">FWS</text>
<line x1="64.50" y1="412.50" x2="64.50" y2="516.00" stroke="#262626" stroke-width="1"/>
<line x1="64.00" y1="515.50" x2="221.30" y2="515.50" stroke="#262626" stroke-width="1"/>
<line x1="64.50" y1="515.50" x2="67.00" y2="515.50" stroke="#262626" stroke-width="1"/>
<text x="55.70" y="519.00" font-size="10.4" text-anchor="end" fill="#222" stroke="#222" stroke-width="0.22">85</text>
<line x1="64.50" y1="494.50" x2="67.00" y2="494.50" stroke="#262626" stroke-width="1"/>
<text x="55.70" y="498.00" font-size="10.4" text-anchor="end" fill="#222" stroke="#222" stroke-width="0.22">90</text>
<line x1="64.50" y1="474.50" x2="67.00" y2="474.50" stroke="#262626" stroke-width="1"/>
<text x="55.70" y="478.00" font-size="10.4" text-anchor="end" fill="#222" stroke="#222" stroke-width="0.22">95</text>
<line x1="64.50" y1="453.50" x2="67.00" y2="453.50" stroke="#262626" stroke-width="1"/>
<text x="55.70" y="457.00" font-size="10.4" text-anchor="end" fill="#222" stroke="#222" stroke-width="0.22">100</text>
<line x1="64.50" y1="433.50" x2="67.00" y2="433.50" stroke="#262626" stroke-width="1"/>
<text x="55.70" y="437.00" font-size="10.4" text-anchor="end" fill="#222" stroke="#222" stroke-width="0.22">105</text>
<line x1="64.50" y1="412.50" x2="67.00" y2="412.50" stroke="#262626" stroke-width="1"/>
<text x="55.70" y="416.00" font-size="10.4" text-anchor="end" fill="#222" stroke="#222" stroke-width="0.22">110</text>
<text x="64.90" y="530.90" font-size="10.4" text-anchor="middle" fill="#222" stroke="#222" stroke-width="0.22">0</text>
<line x1="103.50" y1="515.50" x2="103.50" y2="513.00" stroke="#262626" stroke-width="1"/>
<text x="103.88" y="530.90" font-size="10.4" text-anchor="middle" fill="#222" stroke="#222" stroke-width="0.22">50</text>
<line x1="142.50" y1="515.50" x2="142.50" y2="513.00" stroke="#262626" stroke-width="1"/>
<text x="142.85" y="530.90" font-size="10.4" text-anchor="middle" fill="#222" stroke="#222" stroke-width="0.22">100</text>
<line x1="181.50" y1="515.50" x2="181.50" y2="513.00" stroke="#262626" stroke-width="1"/>
<text x="181.82" y="530.90" font-size="10.4" text-anchor="middle" fill="#222" stroke="#222" stroke-width="0.22">150</text>
<line x1="220.50" y1="515.50" x2="220.50" y2="513.00" stroke="#262626" stroke-width="1"/>
<text x="220.80" y="530.90" font-size="10.4" text-anchor="middle" fill="#222" stroke="#222" stroke-width="0.22">200</text>
<text x="144.35" y="543.80" font-size="10.4" font-weight="bold" text-anchor="middle" fill="#000" stroke="#000" stroke-width="0.18">Concentration (μg mL⁻¹)</text>
<text x="34.30" y="463.60" font-size="10.4" font-weight="bold" text-anchor="middle" fill="#000" transform="rotate(-90 34.300000000000004 463.6)" stroke="#000" stroke-width="0.18">Viability (%)</text>
<text x="20.90" y="415.40" font-size="10.4" font-weight="bold" text-anchor="start" fill="#000" stroke="#000" stroke-width="0.18">(c)</text>
<polyline fill="none" stroke="#9d4fd1" stroke-width="1.1" points="64.9,453.8 84.4,462.0 103.9,462.0 123.4,465.3 142.9,451.4 162.3,455.0 181.8,455.0 201.3,455.5 220.8,447.7"/>
<polyline fill="none" stroke="#3a8f3a" stroke-width="1.1" points="64.9,453.8 84.4,461.2 103.9,457.9 123.4,463.6 142.9,441.5 162.3,458.3 181.8,460.8 201.3,451.8 220.8,455.9"/>
<polyline fill="none" stroke="#f0383c" stroke-width="1.1" points="64.9,453.8 84.4,451.8 103.9,456.3 123.4,453.8 142.9,446.5 162.3,443.2 181.8,455.0 201.3,448.5 220.8,460.4"/>
<polyline fill="none" stroke="#1e1e1e" stroke-width="1.1" points="64.9,453.8 84.4,462.8 103.9,442.4 123.4,451.8 142.9,451.4 162.3,460.8 181.8,449.7 201.3,461.2 220.8,443.2"/>
<polyline fill="none" stroke="#2c66ad" stroke-width="1.1" points="64.9,453.8 84.4,462.8 103.9,446.5 123.4,454.2 142.9,462.4 162.3,445.2 181.8,463.6 201.3,462.0 220.8,458.3"/>
<polyline fill="none" stroke="#f0a42a" stroke-width="1.1" points="64.9,453.8 84.4,464.9 103.9,460.4 123.4,450.1 142.9,463.6 162.3,448.9 181.8,442.0 201.3,444.0 220.8,451.8"/>
<line x1="84.39" y1="446.19" x2="84.39" y2="477.82" stroke="#222" stroke-width="0.8"/>
<line x1="82.59" y1="446.19" x2="86.19" y2="446.19" stroke="#222" stroke-width="0.8"/>
<line x1="82.59" y1="477.82" x2="86.19" y2="477.82" stroke="#222" stroke-width="0.8"/>
<line x1="84.39" y1="448.58" x2="84.39" y2="473.79" stroke="#222" stroke-width="0.8"/>
<line x1="82.59" y1="448.58" x2="86.19" y2="448.58" stroke="#222" stroke-width="0.8"/>
<line x1="82.59" y1="473.79" x2="86.19" y2="473.79" stroke="#222" stroke-width="0.8"/>
<line x1="84.39" y1="437.45" x2="84.39" y2="466.10" stroke="#222" stroke-width="0.8"/>
<line x1="82.59" y1="437.45" x2="86.19" y2="437.45" stroke="#222" stroke-width="0.8"/>
<line x1="82.59" y1="466.10" x2="86.19" y2="466.10" stroke="#222" stroke-width="0.8"/>
<line x1="84.39" y1="448.91" x2="84.39" y2="476.74" stroke="#222" stroke-width="0.8"/>
<line x1="82.59" y1="448.91" x2="86.19" y2="448.91" stroke="#222" stroke-width="0.8"/>
<line x1="82.59" y1="476.74" x2="86.19" y2="476.74" stroke="#222" stroke-width="0.8"/>
<line x1="84.39" y1="447.27" x2="84.39" y2="478.37" stroke="#222" stroke-width="0.8"/>
<line x1="82.59" y1="447.27" x2="86.19" y2="447.27" stroke="#222" stroke-width="0.8"/>
<line x1="82.59" y1="478.37" x2="86.19" y2="478.37" stroke="#222" stroke-width="0.8"/>
<line x1="84.39" y1="437.45" x2="84.39" y2="479.19" stroke="#222" stroke-width="0.8"/>
<line x1="82.59" y1="437.45" x2="86.19" y2="437.45" stroke="#222" stroke-width="0.8"/>
<line x1="82.59" y1="479.19" x2="86.19" y2="479.19" stroke="#222" stroke-width="0.8"/>
<line x1="103.88" y1="450.83" x2="103.88" y2="473.18" stroke="#222" stroke-width="0.8"/>
<line x1="102.08" y1="450.83" x2="105.67" y2="450.83" stroke="#222" stroke-width="0.8"/>
<line x1="102.08" y1="473.18" x2="105.67" y2="473.18" stroke="#222" stroke-width="0.8"/>
<line x1="103.88" y1="437.86" x2="103.88" y2="477.96" stroke="#222" stroke-width="0.8"/>
<line x1="102.08" y1="437.86" x2="105.67" y2="437.86" stroke="#222" stroke-width="0.8"/>
<line x1="102.08" y1="477.96" x2="105.67" y2="477.96" stroke="#222" stroke-width="0.8"/>
<line x1="103.88" y1="437.84" x2="103.88" y2="474.71" stroke="#222" stroke-width="0.8"/>
<line x1="102.08" y1="437.84" x2="105.67" y2="437.84" stroke="#222" stroke-width="0.8"/>
<line x1="102.08" y1="474.71" x2="105.67" y2="474.71" stroke="#222" stroke-width="0.8"/>
<line x1="103.88" y1="431.87" x2="103.88" y2="452.86" stroke="#222" stroke-width="0.8"/>
<line x1="102.08" y1="431.87" x2="105.67" y2="431.87" stroke="#222" stroke-width="0.8"/>
<line x1="102.08" y1="452.86" x2="105.67" y2="452.86" stroke="#222" stroke-width="0.8"/>
<line x1="103.88" y1="431.31" x2="103.88" y2="477.96" stroke="#222" stroke-width="0.8"/>
<line x1="102.08" y1="431.31" x2="105.67" y2="431.31" stroke="#222" stroke-width="0.8"/>
<line x1="102.08" y1="477.96" x2="105.67" y2="477.96" stroke="#222" stroke-width="0.8"/>
<line x1="103.88" y1="444.18" x2="103.88" y2="476.56" stroke="#222" stroke-width="0.8"/>
<line x1="102.08" y1="444.18" x2="105.67" y2="444.18" stroke="#222" stroke-width="0.8"/>
<line x1="102.08" y1="476.56" x2="105.67" y2="476.56" stroke="#222" stroke-width="0.8"/>
<line x1="123.36" y1="453.00" x2="123.36" y2="477.55" stroke="#222" stroke-width="0.8"/>
<line x1="121.56" y1="453.00" x2="125.16" y2="453.00" stroke="#222" stroke-width="0.8"/>
<line x1="121.56" y1="477.55" x2="125.16" y2="477.55" stroke="#222" stroke-width="0.8"/>
<line x1="123.36" y1="451.81" x2="123.36" y2="475.47" stroke="#222" stroke-width="0.8"/>
<line x1="121.56" y1="451.81" x2="125.16" y2="451.81" stroke="#222" stroke-width="0.8"/>
<line x1="121.56" y1="475.47" x2="125.16" y2="475.47" stroke="#222" stroke-width="0.8"/>
<line x1="123.36" y1="435.55" x2="123.36" y2="472.09" stroke="#222" stroke-width="0.8"/>
<line x1="121.56" y1="435.55" x2="125.16" y2="435.55" stroke="#222" stroke-width="0.8"/>
<line x1="121.56" y1="472.09" x2="125.16" y2="472.09" stroke="#222" stroke-width="0.8"/>
<line x1="123.36" y1="434.59" x2="123.36" y2="477.55" stroke="#222" stroke-width="0.8"/>
<line x1="121.56" y1="434.59" x2="125.16" y2="434.59" stroke="#222" stroke-width="0.8"/>
<line x1="121.56" y1="477.55" x2="125.16" y2="477.55" stroke="#222" stroke-width="0.8"/>
<line x1="123.36" y1="436.16" x2="123.36" y2="472.30" stroke="#222" stroke-width="0.8"/>
<line x1="121.56" y1="436.16" x2="125.16" y2="436.16" stroke="#222" stroke-width="0.8"/>
<line x1="121.56" y1="472.30" x2="125.16" y2="472.30" stroke="#222" stroke-width="0.8"/>
<line x1="123.36" y1="439.25" x2="123.36" y2="461.02" stroke="#222" stroke-width="0.8"/>
<line x1="121.56" y1="439.25" x2="125.16" y2="439.25" stroke="#222" stroke-width="0.8"/>
<line x1="121.56" y1="461.02" x2="125.16" y2="461.02" stroke="#222" stroke-width="0.8"/>
<line x1="142.85" y1="429.45" x2="142.85" y2="473.28" stroke="#222" stroke-width="0.8"/>
<line x1="141.05" y1="429.45" x2="144.65" y2="429.45" stroke="#222" stroke-width="0.8"/>
<line x1="141.05" y1="473.28" x2="144.65" y2="473.28" stroke="#222" stroke-width="0.8"/>
<line x1="142.85" y1="426.38" x2="142.85" y2="456.70" stroke="#222" stroke-width="0.8"/>
<line x1="141.05" y1="426.38" x2="144.65" y2="426.38" stroke="#222" stroke-width="0.8"/>
<line x1="141.05" y1="456.70" x2="144.65" y2="456.70" stroke="#222" stroke-width="0.8"/>
<line x1="142.85" y1="425.59" x2="142.85" y2="477.14" stroke="#222" stroke-width="0.8"/>
<line x1="141.05" y1="425.59" x2="144.65" y2="425.59" stroke="#222" stroke-width="0.8"/>
<line x1="141.05" y1="477.14" x2="144.65" y2="477.14" stroke="#222" stroke-width="0.8"/>
<line x1="142.85" y1="427.65" x2="142.85" y2="475.08" stroke="#222" stroke-width="0.8"/>
<line x1="141.05" y1="427.65" x2="144.65" y2="427.65" stroke="#222" stroke-width="0.8"/>
<line x1="141.05" y1="475.08" x2="144.65" y2="475.08" stroke="#222" stroke-width="0.8"/>
<line x1="142.85" y1="452.10" x2="142.85" y2="472.73" stroke="#222" stroke-width="0.8"/>
<line x1="141.05" y1="452.10" x2="144.65" y2="452.10" stroke="#222" stroke-width="0.8"/>
<line x1="141.05" y1="472.73" x2="144.65" y2="472.73" stroke="#222" stroke-width="0.8"/>
<line x1="142.85" y1="450.14" x2="142.85" y2="477.14" stroke="#222" stroke-width="0.8"/>
<line x1="141.05" y1="450.14" x2="144.65" y2="450.14" stroke="#222" stroke-width="0.8"/>
<line x1="141.05" y1="477.14" x2="144.65" y2="477.14" stroke="#222" stroke-width="0.8"/>
<line x1="162.34" y1="434.06" x2="162.34" y2="476.04" stroke="#222" stroke-width="0.8"/>
<line x1="160.54" y1="434.06" x2="164.14" y2="434.06" stroke="#222" stroke-width="0.8"/>
<line x1="160.54" y1="476.04" x2="164.14" y2="476.04" stroke="#222" stroke-width="0.8"/>
<line x1="162.34" y1="428.45" x2="162.34" y2="477.14" stroke="#222" stroke-width="0.8"/>
<line x1="160.54" y1="428.45" x2="164.14" y2="428.45" stroke="#222" stroke-width="0.8"/>
<line x1="160.54" y1="477.14" x2="164.14" y2="477.14" stroke="#222" stroke-width="0.8"/>
<line x1="162.34" y1="429.63" x2="162.34" y2="456.73" stroke="#222" stroke-width="0.8"/>
<line x1="160.54" y1="429.63" x2="164.14" y2="429.63" stroke="#222" stroke-width="0.8"/>
<line x1="160.54" y1="456.73" x2="164.14" y2="456.73" stroke="#222" stroke-width="0.8"/>
<line x1="162.34" y1="449.32" x2="162.34" y2="472.23" stroke="#222" stroke-width="0.8"/>
<line x1="160.54" y1="449.32" x2="164.14" y2="449.32" stroke="#222" stroke-width="0.8"/>
<line x1="160.54" y1="472.23" x2="164.14" y2="472.23" stroke="#222" stroke-width="0.8"/>
<line x1="162.34" y1="428.45" x2="162.34" y2="462.00" stroke="#222" stroke-width="0.8"/>
<line x1="160.54" y1="428.45" x2="164.14" y2="428.45" stroke="#222" stroke-width="0.8"/>
<line x1="160.54" y1="462.00" x2="164.14" y2="462.00" stroke="#222" stroke-width="0.8"/>
<line x1="162.34" y1="431.52" x2="162.34" y2="466.30" stroke="#222" stroke-width="0.8"/>
<line x1="160.54" y1="431.52" x2="164.14" y2="431.52" stroke="#222" stroke-width="0.8"/>
<line x1="160.54" y1="466.30" x2="164.14" y2="466.30" stroke="#222" stroke-width="0.8"/>
<line x1="181.82" y1="429.27" x2="181.82" y2="477.14" stroke="#222" stroke-width="0.8"/>
<line x1="180.02" y1="429.27" x2="183.62" y2="429.27" stroke="#222" stroke-width="0.8"/>
<line x1="180.02" y1="477.14" x2="183.62" y2="477.14" stroke="#222" stroke-width="0.8"/>
<line x1="181.82" y1="445.72" x2="181.82" y2="475.83" stroke="#222" stroke-width="0.8"/>
<line x1="180.02" y1="445.72" x2="183.62" y2="445.72" stroke="#222" stroke-width="0.8"/>
<line x1="180.02" y1="475.83" x2="183.62" y2="475.83" stroke="#222" stroke-width="0.8"/>
<line x1="181.82" y1="439.58" x2="181.82" y2="470.52" stroke="#222" stroke-width="0.8"/>
<line x1="180.02" y1="439.58" x2="183.62" y2="439.58" stroke="#222" stroke-width="0.8"/>
<line x1="180.02" y1="470.52" x2="183.62" y2="470.52" stroke="#222" stroke-width="0.8"/>
<line x1="181.82" y1="429.27" x2="181.82" y2="470.19" stroke="#222" stroke-width="0.8"/>
<line x1="180.02" y1="429.27" x2="183.62" y2="429.27" stroke="#222" stroke-width="0.8"/>
<line x1="180.02" y1="470.19" x2="183.62" y2="470.19" stroke="#222" stroke-width="0.8"/>
<line x1="181.82" y1="452.16" x2="181.82" y2="475.12" stroke="#222" stroke-width="0.8"/>
<line x1="180.02" y1="452.16" x2="183.62" y2="452.16" stroke="#222" stroke-width="0.8"/>
<line x1="180.02" y1="475.12" x2="183.62" y2="475.12" stroke="#222" stroke-width="0.8"/>
<line x1="181.82" y1="429.90" x2="181.82" y2="454.00" stroke="#222" stroke-width="0.8"/>
<line x1="180.02" y1="429.90" x2="183.62" y2="429.90" stroke="#222" stroke-width="0.8"/>
<line x1="180.02" y1="454.00" x2="183.62" y2="454.00" stroke="#222" stroke-width="0.8"/>
<line x1="201.31" y1="437.39" x2="201.31" y2="473.53" stroke="#222" stroke-width="0.8"/>
<line x1="199.51" y1="437.39" x2="203.11" y2="437.39" stroke="#222" stroke-width="0.8"/>
<line x1="199.51" y1="473.53" x2="203.11" y2="473.53" stroke="#222" stroke-width="0.8"/>
<line x1="201.31" y1="438.31" x2="201.31" y2="465.24" stroke="#222" stroke-width="0.8"/>
<line x1="199.51" y1="438.31" x2="203.11" y2="438.31" stroke="#222" stroke-width="0.8"/>
<line x1="199.51" y1="465.24" x2="203.11" y2="465.24" stroke="#222" stroke-width="0.8"/>
<line x1="201.31" y1="432.54" x2="201.31" y2="464.46" stroke="#222" stroke-width="0.8"/>
<line x1="199.51" y1="432.54" x2="203.11" y2="432.54" stroke="#222" stroke-width="0.8"/>
<line x1="199.51" y1="464.46" x2="203.11" y2="464.46" stroke="#222" stroke-width="0.8"/>
<line x1="201.31" y1="449.36" x2="201.31" y2="473.01" stroke="#222" stroke-width="0.8"/>
<line x1="199.51" y1="449.36" x2="203.11" y2="449.36" stroke="#222" stroke-width="0.8"/>
<line x1="199.51" y1="473.01" x2="203.11" y2="473.01" stroke="#222" stroke-width="0.8"/>
<line x1="201.31" y1="449.56" x2="201.31" y2="474.44" stroke="#222" stroke-width="0.8"/>
<line x1="199.51" y1="449.56" x2="203.11" y2="449.56" stroke="#222" stroke-width="0.8"/>
<line x1="199.51" y1="474.44" x2="203.11" y2="474.44" stroke="#222" stroke-width="0.8"/>
<line x1="201.31" y1="432.54" x2="201.31" y2="475.10" stroke="#222" stroke-width="0.8"/>
<line x1="199.51" y1="432.54" x2="203.11" y2="432.54" stroke="#222" stroke-width="0.8"/>
<line x1="199.51" y1="475.10" x2="203.11" y2="475.10" stroke="#222" stroke-width="0.8"/>
<line x1="220.80" y1="435.65" x2="220.80" y2="459.71" stroke="#222" stroke-width="0.8"/>
<line x1="219.00" y1="435.65" x2="222.60" y2="435.65" stroke="#222" stroke-width="0.8"/>
<line x1="219.00" y1="459.71" x2="222.60" y2="459.71" stroke="#222" stroke-width="0.8"/>
<line x1="220.80" y1="437.45" x2="220.80" y2="474.28" stroke="#222" stroke-width="0.8"/>
<line x1="219.00" y1="437.45" x2="222.60" y2="437.45" stroke="#222" stroke-width="0.8"/>
<line x1="219.00" y1="474.28" x2="222.60" y2="474.28" stroke="#222" stroke-width="0.8"/>
<line x1="220.80" y1="448.54" x2="220.80" y2="472.19" stroke="#222" stroke-width="0.8"/>
<line x1="219.00" y1="448.54" x2="222.60" y2="448.54" stroke="#222" stroke-width="0.8"/>
<line x1="219.00" y1="472.19" x2="222.60" y2="472.19" stroke="#222" stroke-width="0.8"/>
<line x1="220.80" y1="431.13" x2="220.80" y2="455.23" stroke="#222" stroke-width="0.8"/>
<line x1="219.00" y1="431.13" x2="222.60" y2="431.13" stroke="#222" stroke-width="0.8"/>
<line x1="219.00" y1="455.23" x2="222.60" y2="455.23" stroke="#222" stroke-width="0.8"/>
<line x1="220.80" y1="430.50" x2="220.80" y2="474.28" stroke="#222" stroke-width="0.8"/>
<line x1="219.00" y1="430.50" x2="222.60" y2="430.50" stroke="#222" stroke-width="0.8"/>
<line x1="219.00" y1="474.28" x2="222.60" y2="474.28" stroke="#222" stroke-width="0.8"/>
<line x1="220.80" y1="432.20" x2="220.80" y2="471.35" stroke="#222" stroke-width="0.8"/>
<line x1="219.00" y1="432.20" x2="222.60" y2="432.20" stroke="#222" stroke-width="0.8"/>
<line x1="219.00" y1="471.35" x2="222.60" y2="471.35" stroke="#222" stroke-width="0.8"/>
<circle cx="64.9" cy="453.8" r="3.1" fill="#cfc6f3" stroke="#9d4fd1" stroke-width="1"/>
<circle cx="84.4" cy="462.0" r="3.1" fill="#cfc6f3" stroke="#9d4fd1" stroke-width="1"/>
<circle cx="103.9" cy="462.0" r="3.1" fill="#cfc6f3" stroke="#9d4fd1" stroke-width="1"/>
<circle cx="123.4" cy="465.3" r="3.1" fill="#cfc6f3" stroke="#9d4fd1" stroke-width="1"/>
<circle cx="142.9" cy="451.4" r="3.1" fill="#cfc6f3" stroke="#9d4fd1" stroke-width="1"/>
<circle cx="162.3" cy="455.0" r="3.1" fill="#cfc6f3" stroke="#9d4fd1" stroke-width="1"/>
<circle cx="181.8" cy="455.0" r="3.1" fill="#cfc6f3" stroke="#9d4fd1" stroke-width="1"/>
<circle cx="201.3" cy="455.5" r="3.1" fill="#cfc6f3" stroke="#9d4fd1" stroke-width="1"/>
<circle cx="220.8" cy="447.7" r="3.1" fill="#cfc6f3" stroke="#9d4fd1" stroke-width="1"/>
<circle cx="64.9" cy="453.8" r="3.1" fill="#5fbf3a" stroke="#2f7a2f" stroke-width="1"/>
<circle cx="84.4" cy="461.2" r="3.1" fill="#5fbf3a" stroke="#2f7a2f" stroke-width="1"/>
<circle cx="103.9" cy="457.9" r="3.1" fill="#5fbf3a" stroke="#2f7a2f" stroke-width="1"/>
<circle cx="123.4" cy="463.6" r="3.1" fill="#5fbf3a" stroke="#2f7a2f" stroke-width="1"/>
<circle cx="142.9" cy="441.5" r="3.1" fill="#5fbf3a" stroke="#2f7a2f" stroke-width="1"/>
<circle cx="162.3" cy="458.3" r="3.1" fill="#5fbf3a" stroke="#2f7a2f" stroke-width="1"/>
<circle cx="181.8" cy="460.8" r="3.1" fill="#5fbf3a" stroke="#2f7a2f" stroke-width="1"/>
<circle cx="201.3" cy="451.8" r="3.1" fill="#5fbf3a" stroke="#2f7a2f" stroke-width="1"/>
<circle cx="220.8" cy="455.9" r="3.1" fill="#5fbf3a" stroke="#2f7a2f" stroke-width="1"/>
<circle cx="64.9" cy="453.8" r="3.1" fill="#f9cfe0" stroke="#f0383c" stroke-width="1"/>
<circle cx="84.4" cy="451.8" r="3.1" fill="#f9cfe0" stroke="#f0383c" stroke-width="1"/>
<circle cx="103.9" cy="456.3" r="3.1" fill="#f9cfe0" stroke="#f0383c" stroke-width="1"/>
<circle cx="123.4" cy="453.8" r="3.1" fill="#f9cfe0" stroke="#f0383c" stroke-width="1"/>
<circle cx="142.9" cy="446.5" r="3.1" fill="#f9cfe0" stroke="#f0383c" stroke-width="1"/>
<circle cx="162.3" cy="443.2" r="3.1" fill="#f9cfe0" stroke="#f0383c" stroke-width="1"/>
<circle cx="181.8" cy="455.0" r="3.1" fill="#f9cfe0" stroke="#f0383c" stroke-width="1"/>
<circle cx="201.3" cy="448.5" r="3.1" fill="#f9cfe0" stroke="#f0383c" stroke-width="1"/>
<circle cx="220.8" cy="460.4" r="3.1" fill="#f9cfe0" stroke="#f0383c" stroke-width="1"/>
<circle cx="64.9" cy="453.8" r="3.1" fill="#ffffff" stroke="#1e1e1e" stroke-width="1"/>
<circle cx="84.4" cy="462.8" r="3.1" fill="#ffffff" stroke="#1e1e1e" stroke-width="1"/>
<circle cx="103.9" cy="442.4" r="3.1" fill="#ffffff" stroke="#1e1e1e" stroke-width="1"/>
<circle cx="123.4" cy="451.8" r="3.1" fill="#ffffff" stroke="#1e1e1e" stroke-width="1"/>
<circle cx="142.9" cy="451.4" r="3.1" fill="#ffffff" stroke="#1e1e1e" stroke-width="1"/>
<circle cx="162.3" cy="460.8" r="3.1" fill="#ffffff" stroke="#1e1e1e" stroke-width="1"/>
<circle cx="181.8" cy="449.7" r="3.1" fill="#ffffff" stroke="#1e1e1e" stroke-width="1"/>
<circle cx="201.3" cy="461.2" r="3.1" fill="#ffffff" stroke="#1e1e1e" stroke-width="1"/>
<circle cx="220.8" cy="443.2" r="3.1" fill="#ffffff" stroke="#1e1e1e" stroke-width="1"/>
<circle cx="64.9" cy="453.8" r="3.1" fill="#1f8fd6" stroke="#2a5f9e" stroke-width="1"/>
<circle cx="84.4" cy="462.8" r="3.1" fill="#1f8fd6" stroke="#2a5f9e" stroke-width="1"/>
<circle cx="103.9" cy="446.5" r="3.1" fill="#1f8fd6" stroke="#2a5f9e" stroke-width="1"/>
<circle cx="123.4" cy="454.2" r="3.1" fill="#1f8fd6" stroke="#2a5f9e" stroke-width="1"/>
<circle cx="142.9" cy="462.4" r="3.1" fill="#1f8fd6" stroke="#2a5f9e" stroke-width="1"/>
<circle cx="162.3" cy="445.2" r="3.1" fill="#1f8fd6" stroke="#2a5f9e" stroke-width="1"/>
<circle cx="181.8" cy="463.6" r="3.1" fill="#1f8fd6" stroke="#2a5f9e" stroke-width="1"/>
<circle cx="201.3" cy="462.0" r="3.1" fill="#1f8fd6" stroke="#2a5f9e" stroke-width="1"/>
<circle cx="220.8" cy="458.3" r="3.1" fill="#1f8fd6" stroke="#2a5f9e" stroke-width="1"/>
<circle cx="64.9" cy="453.8" r="3.1" fill="#ffe100" stroke="#f0a42a" stroke-width="1"/>
<circle cx="84.4" cy="464.9" r="3.1" fill="#ffe100" stroke="#f0a42a" stroke-width="1"/>
<circle cx="103.9" cy="460.4" r="3.1" fill="#ffe100" stroke="#f0a42a" stroke-width="1"/>
<circle cx="123.4" cy="450.1" r="3.1" fill="#ffe100" stroke="#f0a42a" stroke-width="1"/>
<circle cx="142.9" cy="463.6" r="3.1" fill="#ffe100" stroke="#f0a42a" stroke-width="1"/>
<circle cx="162.3" cy="448.9" r="3.1" fill="#ffe100" stroke="#f0a42a" stroke-width="1"/>
<circle cx="181.8" cy="442.0" r="3.1" fill="#ffe100" stroke="#f0a42a" stroke-width="1"/>
<circle cx="201.3" cy="444.0" r="3.1" fill="#ffe100" stroke="#f0a42a" stroke-width="1"/>
<circle cx="220.8" cy="451.8" r="3.1" fill="#ffe100" stroke="#f0a42a" stroke-width="1"/>
<line x1="75.10" y1="491.50" x2="92.30" y2="491.50" stroke="#9d4fd1" stroke-width="1.1"/>
<circle cx="83.9" cy="491.5" r="3.2" fill="#cfc6f3" stroke="#9d4fd1" stroke-width="1.05"/>
<text x="94.10" y="495.30" font-size="10" text-anchor="start" fill="#111" stroke="#111" stroke-width="0.22">MS</text>
<line x1="126.30" y1="491.50" x2="143.50" y2="491.50" stroke="#3a8f3a" stroke-width="1.1"/>
<circle cx="135.1" cy="491.5" r="3.2" fill="#5fbf3a" stroke="#2f7a2f" stroke-width="1.05"/>
<text x="145.30" y="495.30" font-size="10" text-anchor="start" fill="#111" stroke="#111" stroke-width="0.22">PS</text>
<line x1="177.50" y1="491.50" x2="194.70" y2="491.50" stroke="#f0383c" stroke-width="1.1"/>
<circle cx="186.3" cy="491.5" r="3.2" fill="#f9cfe0" stroke="#f0383c" stroke-width="1.05"/>
<text x="196.50" y="495.30" font-size="10" text-anchor="start" fill="#111" stroke="#111" stroke-width="0.22">WS</text>
<line x1="75.10" y1="505.80" x2="92.30" y2="505.80" stroke="#1e1e1e" stroke-width="1.1"/>
<circle cx="83.9" cy="505.8" r="3.2" fill="#ffffff" stroke="#1e1e1e" stroke-width="1.05"/>
<text x="94.10" y="509.60" font-size="10" text-anchor="start" fill="#111" stroke="#111" stroke-width="0.22">FMS</text>
<line x1="126.30" y1="505.80" x2="143.50" y2="505.80" stroke="#2c66ad" stroke-width="1.1"/>
<circle cx="135.1" cy="505.8" r="3.2" fill="#1f8fd6" stroke="#2a5f9e" stroke-width="1.05"/>
<text x="145.30" y="509.60" font-size="10" text-anchor="start" fill="#111" stroke="#111" stroke-width="0.22">FPS</text>
<line x1="177.50" y1="505.80" x2="194.70" y2="505.80" stroke="#f0a42a" stroke-width="1.1"/>
<circle cx="186.3" cy="505.8" r="3.2" fill="#ffe100" stroke="#f0a42a" stroke-width="1.05"/>
<text x="196.50" y="509.60" font-size="10" text-anchor="start" fill="#111" stroke="#111" stroke-width="0.22">FWS</text>
<line x1="285.50" y1="412.50" x2="285.50" y2="516.00" stroke="#262626" stroke-width="1"/>
<line x1="285.00" y1="515.50" x2="441.90" y2="515.50" stroke="#262626" stroke-width="1"/>
<line x1="285.50" y1="515.50" x2="288.00" y2="515.50" stroke="#262626" stroke-width="1"/>
<text x="276.30" y="519.00" font-size="10.4" text-anchor="end" fill="#222" stroke="#222" stroke-width="0.22">85</text>
<line x1="285.50" y1="494.50" x2="288.00" y2="494.50" stroke="#262626" stroke-width="1"/>
<text x="276.30" y="498.00" font-size="10.4" text-anchor="end" fill="#222" stroke="#222" stroke-width="0.22">90</text>
<line x1="285.50" y1="474.50" x2="288.00" y2="474.50" stroke="#262626" stroke-width="1"/>
<text x="276.30" y="478.00" font-size="10.4" text-anchor="end" fill="#222" stroke="#222" stroke-width="0.22">95</text>
<line x1="285.50" y1="453.50" x2="288.00" y2="453.50" stroke="#262626" stroke-width="1"/>
<text x="276.30" y="457.00" font-size="10.4" text-anchor="end" fill="#222" stroke="#222" stroke-width="0.22">100</text>
<line x1="285.50" y1="433.50" x2="288.00" y2="433.50" stroke="#262626" stroke-width="1"/>
<text x="276.30" y="437.00" font-size="10.4" text-anchor="end" fill="#222" stroke="#222" stroke-width="0.22">105</text>
<line x1="285.50" y1="412.50" x2="288.00" y2="412.50" stroke="#262626" stroke-width="1"/>
<text x="276.30" y="416.00" font-size="10.4" text-anchor="end" fill="#222" stroke="#222" stroke-width="0.22">110</text>
<text x="285.50" y="530.90" font-size="10.4" text-anchor="middle" fill="#222" stroke="#222" stroke-width="0.22">0</text>
<line x1="324.50" y1="515.50" x2="324.50" y2="513.00" stroke="#262626" stroke-width="1"/>
<text x="324.48" y="530.90" font-size="10.4" text-anchor="middle" fill="#222" stroke="#222" stroke-width="0.22">50</text>
<line x1="363.50" y1="515.50" x2="363.50" y2="513.00" stroke="#262626" stroke-width="1"/>
<text x="363.45" y="530.90" font-size="10.4" text-anchor="middle" fill="#222" stroke="#222" stroke-width="0.22">100</text>
<line x1="402.50" y1="515.50" x2="402.50" y2="513.00" stroke="#262626" stroke-width="1"/>
<text x="402.43" y="530.90" font-size="10.4" text-anchor="middle" fill="#222" stroke="#222" stroke-width="0.22">150</text>
<line x1="441.50" y1="515.50" x2="441.50" y2="513.00" stroke="#262626" stroke-width="1"/>
<text x="441.40" y="530.90" font-size="10.4" text-anchor="middle" fill="#222" stroke="#222" stroke-width="0.22">200</text>
<text x="364.95" y="543.80" font-size="10.4" font-weight="bold" text-anchor="middle" fill="#000" stroke="#000" stroke-width="0.18">Concentration (μg mL⁻¹)</text>
<text x="254.90" y="463.60" font-size="10.4" font-weight="bold" text-anchor="middle" fill="#000" transform="rotate(-90 254.9 463.6)" stroke="#000" stroke-width="0.18">Viability (%)</text>
<text x="243.40" y="415.40" font-size="10.4" font-weight="bold" text-anchor="start" fill="#000" stroke="#000" stroke-width="0.18">(d)</text>
<polyline fill="none" stroke="#9d4fd1" stroke-width="1.1" points="285.5,453.8 305.0,460.0 324.5,446.0 344.0,442.0 363.4,466.1 382.9,458.7 402.4,460.0 421.9,446.5 441.4,446.5"/>
<polyline fill="none" stroke="#3a8f3a" stroke-width="1.1" points="285.5,453.8 305.0,454.6 324.5,464.5 344.0,463.6 363.4,449.7 382.9,454.6 402.4,458.7 421.9,457.1 441.4,449.7"/>
<polyline fill="none" stroke="#f0383c" stroke-width="1.1" points="285.5,453.8 305.0,446.0 324.5,457.1 344.0,444.4 363.4,451.8 382.9,458.7 402.4,460.0 421.9,445.6 441.4,463.2"/>
<polyline fill="none" stroke="#1e1e1e" stroke-width="1.1" points="285.5,453.8 305.0,462.8 324.5,444.0 344.0,464.5 363.4,459.1 382.9,462.8 402.4,462.4 421.9,448.9 441.4,455.9"/>
<polyline fill="none" stroke="#2c66ad" stroke-width="1.1" points="285.5,453.8 305.0,459.1 324.5,443.2 344.0,460.4 363.4,451.8 382.9,442.0 402.4,456.3 421.9,447.3 441.4,445.2"/>
<polyline fill="none" stroke="#f0a42a" stroke-width="1.1" points="285.5,453.8 305.0,449.3 324.5,460.0 344.0,448.5 363.4,453.4 382.9,463.2 402.4,444.4 421.9,462.0 441.4,453.0"/>
<line x1="304.99" y1="443.02" x2="304.99" y2="476.90" stroke="#222" stroke-width="0.8"/>
<line x1="303.19" y1="443.02" x2="306.79" y2="443.02" stroke="#222" stroke-width="0.8"/>
<line x1="303.19" y1="476.90" x2="306.79" y2="476.90" stroke="#222" stroke-width="0.8"/>
<line x1="304.99" y1="440.03" x2="304.99" y2="469.25" stroke="#222" stroke-width="0.8"/>
<line x1="303.19" y1="440.03" x2="306.79" y2="440.03" stroke="#222" stroke-width="0.8"/>
<line x1="303.19" y1="469.25" x2="306.79" y2="469.25" stroke="#222" stroke-width="0.8"/>
<line x1="304.99" y1="433.77" x2="304.99" y2="458.32" stroke="#222" stroke-width="0.8"/>
<line x1="303.19" y1="433.77" x2="306.79" y2="433.77" stroke="#222" stroke-width="0.8"/>
<line x1="303.19" y1="458.32" x2="306.79" y2="458.32" stroke="#222" stroke-width="0.8"/>
<line x1="304.99" y1="449.61" x2="304.99" y2="476.04" stroke="#222" stroke-width="0.8"/>
<line x1="303.19" y1="449.61" x2="306.79" y2="449.61" stroke="#222" stroke-width="0.8"/>
<line x1="303.19" y1="476.04" x2="306.79" y2="476.04" stroke="#222" stroke-width="0.8"/>
<line x1="304.99" y1="440.87" x2="304.99" y2="477.41" stroke="#222" stroke-width="0.8"/>
<line x1="303.19" y1="440.87" x2="306.79" y2="440.87" stroke="#222" stroke-width="0.8"/>
<line x1="303.19" y1="477.41" x2="306.79" y2="477.41" stroke="#222" stroke-width="0.8"/>
<line x1="304.99" y1="433.77" x2="304.99" y2="478.37" stroke="#222" stroke-width="0.8"/>
<line x1="303.19" y1="433.77" x2="306.79" y2="433.77" stroke="#222" stroke-width="0.8"/>
<line x1="303.19" y1="478.37" x2="306.79" y2="478.37" stroke="#222" stroke-width="0.8"/>
<line x1="324.48" y1="433.73" x2="324.48" y2="458.36" stroke="#222" stroke-width="0.8"/>
<line x1="322.68" y1="433.73" x2="326.28" y2="433.73" stroke="#222" stroke-width="0.8"/>
<line x1="322.68" y1="458.36" x2="326.28" y2="458.36" stroke="#222" stroke-width="0.8"/>
<line x1="324.48" y1="453.00" x2="324.48" y2="475.92" stroke="#222" stroke-width="0.8"/>
<line x1="322.68" y1="453.00" x2="326.28" y2="453.00" stroke="#222" stroke-width="0.8"/>
<line x1="322.68" y1="475.92" x2="326.28" y2="475.92" stroke="#222" stroke-width="0.8"/>
<line x1="324.48" y1="441.09" x2="324.48" y2="473.09" stroke="#222" stroke-width="0.8"/>
<line x1="322.68" y1="441.09" x2="326.28" y2="441.09" stroke="#222" stroke-width="0.8"/>
<line x1="322.68" y1="473.09" x2="326.28" y2="473.09" stroke="#222" stroke-width="0.8"/>
<line x1="324.48" y1="429.23" x2="324.48" y2="458.77" stroke="#222" stroke-width="0.8"/>
<line x1="322.68" y1="429.23" x2="326.28" y2="429.23" stroke="#222" stroke-width="0.8"/>
<line x1="322.68" y1="458.77" x2="326.28" y2="458.77" stroke="#222" stroke-width="0.8"/>
<line x1="324.48" y1="428.45" x2="324.48" y2="475.92" stroke="#222" stroke-width="0.8"/>
<line x1="322.68" y1="428.45" x2="326.28" y2="428.45" stroke="#222" stroke-width="0.8"/>
<line x1="322.68" y1="475.92" x2="326.28" y2="475.92" stroke="#222" stroke-width="0.8"/>
<line x1="324.48" y1="445.28" x2="324.48" y2="474.64" stroke="#222" stroke-width="0.8"/>
<line x1="322.68" y1="445.28" x2="326.28" y2="445.28" stroke="#222" stroke-width="0.8"/>
<line x1="322.68" y1="474.64" x2="326.28" y2="474.64" stroke="#222" stroke-width="0.8"/>
<line x1="343.96" y1="429.27" x2="343.96" y2="454.64" stroke="#222" stroke-width="0.8"/>
<line x1="342.16" y1="429.27" x2="345.76" y2="429.27" stroke="#222" stroke-width="0.8"/>
<line x1="342.16" y1="454.64" x2="345.76" y2="454.64" stroke="#222" stroke-width="0.8"/>
<line x1="343.96" y1="450.08" x2="343.96" y2="477.21" stroke="#222" stroke-width="0.8"/>
<line x1="342.16" y1="450.08" x2="345.76" y2="450.08" stroke="#222" stroke-width="0.8"/>
<line x1="342.16" y1="477.21" x2="345.76" y2="477.21" stroke="#222" stroke-width="0.8"/>
<line x1="343.96" y1="430.03" x2="343.96" y2="458.79" stroke="#222" stroke-width="0.8"/>
<line x1="342.16" y1="430.03" x2="345.76" y2="430.03" stroke="#222" stroke-width="0.8"/>
<line x1="342.16" y1="458.79" x2="345.76" y2="458.79" stroke="#222" stroke-width="0.8"/>
<line x1="343.96" y1="429.27" x2="343.96" y2="479.60" stroke="#222" stroke-width="0.8"/>
<line x1="342.16" y1="429.27" x2="345.76" y2="429.27" stroke="#222" stroke-width="0.8"/>
<line x1="342.16" y1="479.60" x2="345.76" y2="479.60" stroke="#222" stroke-width="0.8"/>
<line x1="343.96" y1="442.67" x2="343.96" y2="478.06" stroke="#222" stroke-width="0.8"/>
<line x1="342.16" y1="442.67" x2="345.76" y2="442.67" stroke="#222" stroke-width="0.8"/>
<line x1="342.16" y1="478.06" x2="345.76" y2="478.06" stroke="#222" stroke-width="0.8"/>
<line x1="343.96" y1="435.04" x2="343.96" y2="461.96" stroke="#222" stroke-width="0.8"/>
<line x1="342.16" y1="435.04" x2="345.76" y2="435.04" stroke="#222" stroke-width="0.8"/>
<line x1="342.16" y1="461.96" x2="345.76" y2="461.96" stroke="#222" stroke-width="0.8"/>
<line x1="363.45" y1="455.66" x2="363.45" y2="476.53" stroke="#222" stroke-width="0.8"/>
<line x1="361.65" y1="455.66" x2="365.25" y2="455.66" stroke="#222" stroke-width="0.8"/>
<line x1="361.65" y1="476.53" x2="365.25" y2="476.53" stroke="#222" stroke-width="0.8"/>
<line x1="363.45" y1="438.07" x2="363.45" y2="461.39" stroke="#222" stroke-width="0.8"/>
<line x1="361.65" y1="438.07" x2="365.25" y2="438.07" stroke="#222" stroke-width="0.8"/>
<line x1="361.65" y1="461.39" x2="365.25" y2="461.39" stroke="#222" stroke-width="0.8"/>
<line x1="363.45" y1="437.45" x2="363.45" y2="478.37" stroke="#222" stroke-width="0.8"/>
<line x1="361.65" y1="437.45" x2="365.25" y2="437.45" stroke="#222" stroke-width="0.8"/>
<line x1="361.65" y1="478.37" x2="365.25" y2="478.37" stroke="#222" stroke-width="0.8"/>
<line x1="363.45" y1="441.45" x2="363.45" y2="476.83" stroke="#222" stroke-width="0.8"/>
<line x1="361.65" y1="441.45" x2="365.25" y2="441.45" stroke="#222" stroke-width="0.8"/>
<line x1="361.65" y1="476.83" x2="365.25" y2="476.83" stroke="#222" stroke-width="0.8"/>
<line x1="363.45" y1="441.75" x2="363.45" y2="461.80" stroke="#222" stroke-width="0.8"/>
<line x1="361.65" y1="441.75" x2="365.25" y2="441.75" stroke="#222" stroke-width="0.8"/>
<line x1="361.65" y1="461.80" x2="365.25" y2="461.80" stroke="#222" stroke-width="0.8"/>
<line x1="363.45" y1="437.45" x2="363.45" y2="469.37" stroke="#222" stroke-width="0.8"/>
<line x1="361.65" y1="437.45" x2="365.25" y2="437.45" stroke="#222" stroke-width="0.8"/>
<line x1="361.65" y1="469.37" x2="365.25" y2="469.37" stroke="#222" stroke-width="0.8"/>
<line x1="382.94" y1="440.07" x2="382.94" y2="477.39" stroke="#222" stroke-width="0.8"/>
<line x1="381.14" y1="440.07" x2="384.74" y2="440.07" stroke="#222" stroke-width="0.8"/>
<line x1="381.14" y1="477.39" x2="384.74" y2="477.39" stroke="#222" stroke-width="0.8"/>
<line x1="382.94" y1="428.45" x2="382.94" y2="478.37" stroke="#222" stroke-width="0.8"/>
<line x1="381.14" y1="428.45" x2="384.74" y2="428.45" stroke="#222" stroke-width="0.8"/>
<line x1="381.14" y1="478.37" x2="384.74" y2="478.37" stroke="#222" stroke-width="0.8"/>
<line x1="382.94" y1="440.66" x2="382.94" y2="476.80" stroke="#222" stroke-width="0.8"/>
<line x1="381.14" y1="440.66" x2="384.74" y2="440.66" stroke="#222" stroke-width="0.8"/>
<line x1="381.14" y1="476.80" x2="384.74" y2="476.80" stroke="#222" stroke-width="0.8"/>
<line x1="382.94" y1="451.94" x2="382.94" y2="473.71" stroke="#222" stroke-width="0.8"/>
<line x1="381.14" y1="451.94" x2="384.74" y2="451.94" stroke="#222" stroke-width="0.8"/>
<line x1="381.14" y1="473.71" x2="384.74" y2="473.71" stroke="#222" stroke-width="0.8"/>
<line x1="382.94" y1="428.45" x2="382.94" y2="455.46" stroke="#222" stroke-width="0.8"/>
<line x1="381.14" y1="428.45" x2="384.74" y2="428.45" stroke="#222" stroke-width="0.8"/>
<line x1="381.14" y1="455.46" x2="384.74" y2="455.46" stroke="#222" stroke-width="0.8"/>
<line x1="382.94" y1="450.36" x2="382.94" y2="476.10" stroke="#222" stroke-width="0.8"/>
<line x1="381.14" y1="450.36" x2="384.74" y2="450.36" stroke="#222" stroke-width="0.8"/>
<line x1="381.14" y1="476.10" x2="384.74" y2="476.10" stroke="#222" stroke-width="0.8"/>
<line x1="402.43" y1="428.86" x2="402.43" y2="474.69" stroke="#222" stroke-width="0.8"/>
<line x1="400.62" y1="428.86" x2="404.23" y2="428.86" stroke="#222" stroke-width="0.8"/>
<line x1="400.62" y1="474.69" x2="404.23" y2="474.69" stroke="#222" stroke-width="0.8"/>
<line x1="402.43" y1="444.05" x2="402.43" y2="473.41" stroke="#222" stroke-width="0.8"/>
<line x1="400.62" y1="444.05" x2="404.23" y2="444.05" stroke="#222" stroke-width="0.8"/>
<line x1="400.62" y1="473.41" x2="404.23" y2="473.41" stroke="#222" stroke-width="0.8"/>
<line x1="402.43" y1="449.65" x2="402.43" y2="470.27" stroke="#222" stroke-width="0.8"/>
<line x1="400.62" y1="449.65" x2="404.23" y2="449.65" stroke="#222" stroke-width="0.8"/>
<line x1="400.62" y1="470.27" x2="404.23" y2="470.27" stroke="#222" stroke-width="0.8"/>
<line x1="402.43" y1="450.14" x2="402.43" y2="474.69" stroke="#222" stroke-width="0.8"/>
<line x1="400.62" y1="450.14" x2="404.23" y2="450.14" stroke="#222" stroke-width="0.8"/>
<line x1="400.62" y1="474.69" x2="404.23" y2="474.69" stroke="#222" stroke-width="0.8"/>
<line x1="402.43" y1="440.62" x2="402.43" y2="471.93" stroke="#222" stroke-width="0.8"/>
<line x1="400.62" y1="440.62" x2="404.23" y2="440.62" stroke="#222" stroke-width="0.8"/>
<line x1="400.62" y1="471.93" x2="404.23" y2="471.93" stroke="#222" stroke-width="0.8"/>
<line x1="402.43" y1="429.64" x2="402.43" y2="459.18" stroke="#222" stroke-width="0.8"/>
<line x1="400.62" y1="429.64" x2="404.23" y2="429.64" stroke="#222" stroke-width="0.8"/>
<line x1="400.62" y1="459.18" x2="404.23" y2="459.18" stroke="#222" stroke-width="0.8"/>
<line x1="421.91" y1="432.90" x2="421.91" y2="460.01" stroke="#222" stroke-width="0.8"/>
<line x1="420.11" y1="432.90" x2="423.71" y2="432.90" stroke="#222" stroke-width="0.8"/>
<line x1="420.11" y1="460.01" x2="423.71" y2="460.01" stroke="#222" stroke-width="0.8"/>
<line x1="421.91" y1="443.63" x2="421.91" y2="470.56" stroke="#222" stroke-width="0.8"/>
<line x1="420.11" y1="443.63" x2="423.71" y2="443.63" stroke="#222" stroke-width="0.8"/>
<line x1="420.11" y1="470.56" x2="423.71" y2="470.56" stroke="#222" stroke-width="0.8"/>
<line x1="421.91" y1="431.72" x2="421.91" y2="459.55" stroke="#222" stroke-width="0.8"/>
<line x1="420.11" y1="431.72" x2="423.71" y2="431.72" stroke="#222" stroke-width="0.8"/>
<line x1="420.11" y1="459.55" x2="423.71" y2="459.55" stroke="#222" stroke-width="0.8"/>
<line x1="421.91" y1="434.30" x2="421.91" y2="463.52" stroke="#222" stroke-width="0.8"/>
<line x1="420.11" y1="434.30" x2="423.71" y2="434.30" stroke="#222" stroke-width="0.8"/>
<line x1="420.11" y1="463.52" x2="423.71" y2="463.52" stroke="#222" stroke-width="0.8"/>
<line x1="421.91" y1="432.50" x2="421.91" y2="462.04" stroke="#222" stroke-width="0.8"/>
<line x1="420.11" y1="432.50" x2="423.71" y2="432.50" stroke="#222" stroke-width="0.8"/>
<line x1="420.11" y1="462.04" x2="423.71" y2="462.04" stroke="#222" stroke-width="0.8"/>
<line x1="421.91" y1="431.72" x2="421.91" y2="476.33" stroke="#222" stroke-width="0.8"/>
<line x1="420.11" y1="431.72" x2="423.71" y2="431.72" stroke="#222" stroke-width="0.8"/>
<line x1="420.11" y1="476.33" x2="423.71" y2="476.33" stroke="#222" stroke-width="0.8"/>
<line x1="441.40" y1="436.14" x2="441.40" y2="456.77" stroke="#222" stroke-width="0.8"/>
<line x1="439.60" y1="436.14" x2="443.20" y2="436.14" stroke="#222" stroke-width="0.8"/>
<line x1="439.60" y1="456.77" x2="443.20" y2="456.77" stroke="#222" stroke-width="0.8"/>
<line x1="441.40" y1="431.72" x2="441.40" y2="467.73" stroke="#222" stroke-width="0.8"/>
<line x1="439.60" y1="431.72" x2="443.20" y2="431.72" stroke="#222" stroke-width="0.8"/>
<line x1="439.60" y1="467.73" x2="443.20" y2="467.73" stroke="#222" stroke-width="0.8"/>
<line x1="441.40" y1="452.10" x2="441.40" y2="474.36" stroke="#222" stroke-width="0.8"/>
<line x1="439.60" y1="452.10" x2="443.20" y2="452.10" stroke="#222" stroke-width="0.8"/>
<line x1="439.60" y1="474.36" x2="443.20" y2="474.36" stroke="#222" stroke-width="0.8"/>
<line x1="441.40" y1="436.43" x2="441.40" y2="475.30" stroke="#222" stroke-width="0.8"/>
<line x1="439.60" y1="436.43" x2="443.20" y2="436.43" stroke="#222" stroke-width="0.8"/>
<line x1="439.60" y1="475.30" x2="443.20" y2="475.30" stroke="#222" stroke-width="0.8"/>
<line x1="441.40" y1="431.72" x2="441.40" y2="476.33" stroke="#222" stroke-width="0.8"/>
<line x1="439.60" y1="431.72" x2="443.20" y2="431.72" stroke="#222" stroke-width="0.8"/>
<line x1="439.60" y1="476.33" x2="443.20" y2="476.33" stroke="#222" stroke-width="0.8"/>
<line x1="441.40" y1="433.43" x2="441.40" y2="472.58" stroke="#222" stroke-width="0.8"/>
<line x1="439.60" y1="433.43" x2="443.20" y2="433.43" stroke="#222" stroke-width="0.8"/>
<line x1="439.60" y1="472.58" x2="443.20" y2="472.58" stroke="#222" stroke-width="0.8"/>
<circle cx="285.5" cy="453.8" r="3.1" fill="#cfc6f3" stroke="#9d4fd1" stroke-width="1"/>
<circle cx="305.0" cy="460.0" r="3.1" fill="#cfc6f3" stroke="#9d4fd1" stroke-width="1"/>
<circle cx="324.5" cy="446.0" r="3.1" fill="#cfc6f3" stroke="#9d4fd1" stroke-width="1"/>
<circle cx="344.0" cy="442.0" r="3.1" fill="#cfc6f3" stroke="#9d4fd1" stroke-width="1"/>
<circle cx="363.4" cy="466.1" r="3.1" fill="#cfc6f3" stroke="#9d4fd1" stroke-width="1"/>
<circle cx="382.9" cy="458.7" r="3.1" fill="#cfc6f3" stroke="#9d4fd1" stroke-width="1"/>
<circle cx="402.4" cy="460.0" r="3.1" fill="#cfc6f3" stroke="#9d4fd1" stroke-width="1"/>
<circle cx="421.9" cy="446.5" r="3.1" fill="#cfc6f3" stroke="#9d4fd1" stroke-width="1"/>
<circle cx="441.4" cy="446.5" r="3.1" fill="#cfc6f3" stroke="#9d4fd1" stroke-width="1"/>
<circle cx="285.5" cy="453.8" r="3.1" fill="#5fbf3a" stroke="#2f7a2f" stroke-width="1"/>
<circle cx="305.0" cy="454.6" r="3.1" fill="#5fbf3a" stroke="#2f7a2f" stroke-width="1"/>
<circle cx="324.5" cy="464.5" r="3.1" fill="#5fbf3a" stroke="#2f7a2f" stroke-width="1"/>
<circle cx="344.0" cy="463.6" r="3.1" fill="#5fbf3a" stroke="#2f7a2f" stroke-width="1"/>
<circle cx="363.4" cy="449.7" r="3.1" fill="#5fbf3a" stroke="#2f7a2f" stroke-width="1"/>
<circle cx="382.9" cy="454.6" r="3.1" fill="#5fbf3a" stroke="#2f7a2f" stroke-width="1"/>
<circle cx="402.4" cy="458.7" r="3.1" fill="#5fbf3a" stroke="#2f7a2f" stroke-width="1"/>
<circle cx="421.9" cy="457.1" r="3.1" fill="#5fbf3a" stroke="#2f7a2f" stroke-width="1"/>
<circle cx="441.4" cy="449.7" r="3.1" fill="#5fbf3a" stroke="#2f7a2f" stroke-width="1"/>
<circle cx="285.5" cy="453.8" r="3.1" fill="#f9cfe0" stroke="#f0383c" stroke-width="1"/>
<circle cx="305.0" cy="446.0" r="3.1" fill="#f9cfe0" stroke="#f0383c" stroke-width="1"/>
<circle cx="324.5" cy="457.1" r="3.1" fill="#f9cfe0" stroke="#f0383c" stroke-width="1"/>
<circle cx="344.0" cy="444.4" r="3.1" fill="#f9cfe0" stroke="#f0383c" stroke-width="1"/>
<circle cx="363.4" cy="451.8" r="3.1" fill="#f9cfe0" stroke="#f0383c" stroke-width="1"/>
<circle cx="382.9" cy="458.7" r="3.1" fill="#f9cfe0" stroke="#f0383c" stroke-width="1"/>
<circle cx="402.4" cy="460.0" r="3.1" fill="#f9cfe0" stroke="#f0383c" stroke-width="1"/>
<circle cx="421.9" cy="445.6" r="3.1" fill="#f9cfe0" stroke="#f0383c" stroke-width="1"/>
<circle cx="441.4" cy="463.2" r="3.1" fill="#f9cfe0" stroke="#f0383c" stroke-width="1"/>
<circle cx="285.5" cy="453.8" r="3.1" fill="#ffffff" stroke="#1e1e1e" stroke-width="1"/>
<circle cx="305.0" cy="462.8" r="3.1" fill="#ffffff" stroke="#1e1e1e" stroke-width="1"/>
<circle cx="324.5" cy="444.0" r="3.1" fill="#ffffff" stroke="#1e1e1e" stroke-width="1"/>
<circle cx="344.0" cy="464.5" r="3.1" fill="#ffffff" stroke="#1e1e1e" stroke-width="1"/>
<circle cx="363.4" cy="459.1" r="3.1" fill="#ffffff" stroke="#1e1e1e" stroke-width="1"/>
<circle cx="382.9" cy="462.8" r="3.1" fill="#ffffff" stroke="#1e1e1e" stroke-width="1"/>
<circle cx="402.4" cy="462.4" r="3.1" fill="#ffffff" stroke="#1e1e1e" stroke-width="1"/>
<circle cx="421.9" cy="448.9" r="3.1" fill="#ffffff" stroke="#1e1e1e" stroke-width="1"/>
<circle cx="441.4" cy="455.9" r="3.1" fill="#ffffff" stroke="#1e1e1e" stroke-width="1"/>
<circle cx="285.5" cy="453.8" r="3.1" fill="#1f8fd6" stroke="#2a5f9e" stroke-width="1"/>
<circle cx="305.0" cy="459.1" r="3.1" fill="#1f8fd6" stroke="#2a5f9e" stroke-width="1"/>
<circle cx="324.5" cy="443.2" r="3.1" fill="#1f8fd6" stroke="#2a5f9e" stroke-width="1"/>
<circle cx="344.0" cy="460.4" r="3.1" fill="#1f8fd6" stroke="#2a5f9e" stroke-width="1"/>
<circle cx="363.4" cy="451.8" r="3.1" fill="#1f8fd6" stroke="#2a5f9e" stroke-width="1"/>
<circle cx="382.9" cy="442.0" r="3.1" fill="#1f8fd6" stroke="#2a5f9e" stroke-width="1"/>
<circle cx="402.4" cy="456.3" r="3.1" fill="#1f8fd6" stroke="#2a5f9e" stroke-width="1"/>
<circle cx="421.9" cy="447.3" r="3.1" fill="#1f8fd6" stroke="#2a5f9e" stroke-width="1"/>
<circle cx="441.4" cy="445.2" r="3.1" fill="#1f8fd6" stroke="#2a5f9e" stroke-width="1"/>
<circle cx="285.5" cy="453.8" r="3.1" fill="#ffe100" stroke="#f0a42a" stroke-width="1"/>
<circle cx="305.0" cy="449.3" r="3.1" fill="#ffe100" stroke="#f0a42a" stroke-width="1"/>
<circle cx="324.5" cy="460.0" r="3.1" fill="#ffe100" stroke="#f0a42a" stroke-width="1"/>
<circle cx="344.0" cy="448.5" r="3.1" fill="#ffe100" stroke="#f0a42a" stroke-width="1"/>
<circle cx="363.4" cy="453.4" r="3.1" fill="#ffe100" stroke="#f0a42a" stroke-width="1"/>
<circle cx="382.9" cy="463.2" r="3.1" fill="#ffe100" stroke="#f0a42a" stroke-width="1"/>
<circle cx="402.4" cy="444.4" r="3.1" fill="#ffe100" stroke="#f0a42a" stroke-width="1"/>
<circle cx="421.9" cy="462.0" r="3.1" fill="#ffe100" stroke="#f0a42a" stroke-width="1"/>
<circle cx="441.4" cy="453.0" r="3.1" fill="#ffe100" stroke="#f0a42a" stroke-width="1"/>
<line x1="295.70" y1="491.50" x2="312.90" y2="491.50" stroke="#9d4fd1" stroke-width="1.1"/>
<circle cx="304.5" cy="491.5" r="3.2" fill="#cfc6f3" stroke="#9d4fd1" stroke-width="1.05"/>
<text x="314.70" y="495.30" font-size="10" text-anchor="start" fill="#111" stroke="#111" stroke-width="0.22">MS</text>
<line x1="346.90" y1="491.50" x2="364.10" y2="491.50" stroke="#3a8f3a" stroke-width="1.1"/>
<circle cx="355.7" cy="491.5" r="3.2" fill="#5fbf3a" stroke="#2f7a2f" stroke-width="1.05"/>
<text x="365.90" y="495.30" font-size="10" text-anchor="start" fill="#111" stroke="#111" stroke-width="0.22">PS</text>
<line x1="398.10" y1="491.50" x2="415.30" y2="491.50" stroke="#f0383c" stroke-width="1.1"/>
<circle cx="406.9" cy="491.5" r="3.2" fill="#f9cfe0" stroke="#f0383c" stroke-width="1.05"/>
<text x="417.10" y="495.30" font-size="10" text-anchor="start" fill="#111" stroke="#111" stroke-width="0.22">WS</text>
<line x1="295.70" y1="505.80" x2="312.90" y2="505.80" stroke="#1e1e1e" stroke-width="1.1"/>
<circle cx="304.5" cy="505.8" r="3.2" fill="#ffffff" stroke="#1e1e1e" stroke-width="1.05"/>
<text x="314.70" y="509.60" font-size="10" text-anchor="start" fill="#111" stroke="#111" stroke-width="0.22">FMS</text>
<line x1="346.90" y1="505.80" x2="364.10" y2="505.80" stroke="#2c66ad" stroke-width="1.1"/>
<circle cx="355.7" cy="505.8" r="3.2" fill="#1f8fd6" stroke="#2a5f9e" stroke-width="1.05"/>
<text x="365.90" y="509.60" font-size="10" text-anchor="start" fill="#111" stroke="#111" stroke-width="0.22">FPS</text>
<line x1="398.10" y1="505.80" x2="415.30" y2="505.80" stroke="#f0a42a" stroke-width="1.1"/>
<circle cx="406.9" cy="505.8" r="3.2" fill="#ffe100" stroke="#f0a42a" stroke-width="1.05"/>
<text x="417.10" y="509.60" font-size="10" text-anchor="start" fill="#111" stroke="#111" stroke-width="0.22">FWS</text>
</g>
</svg>
</body></html>
